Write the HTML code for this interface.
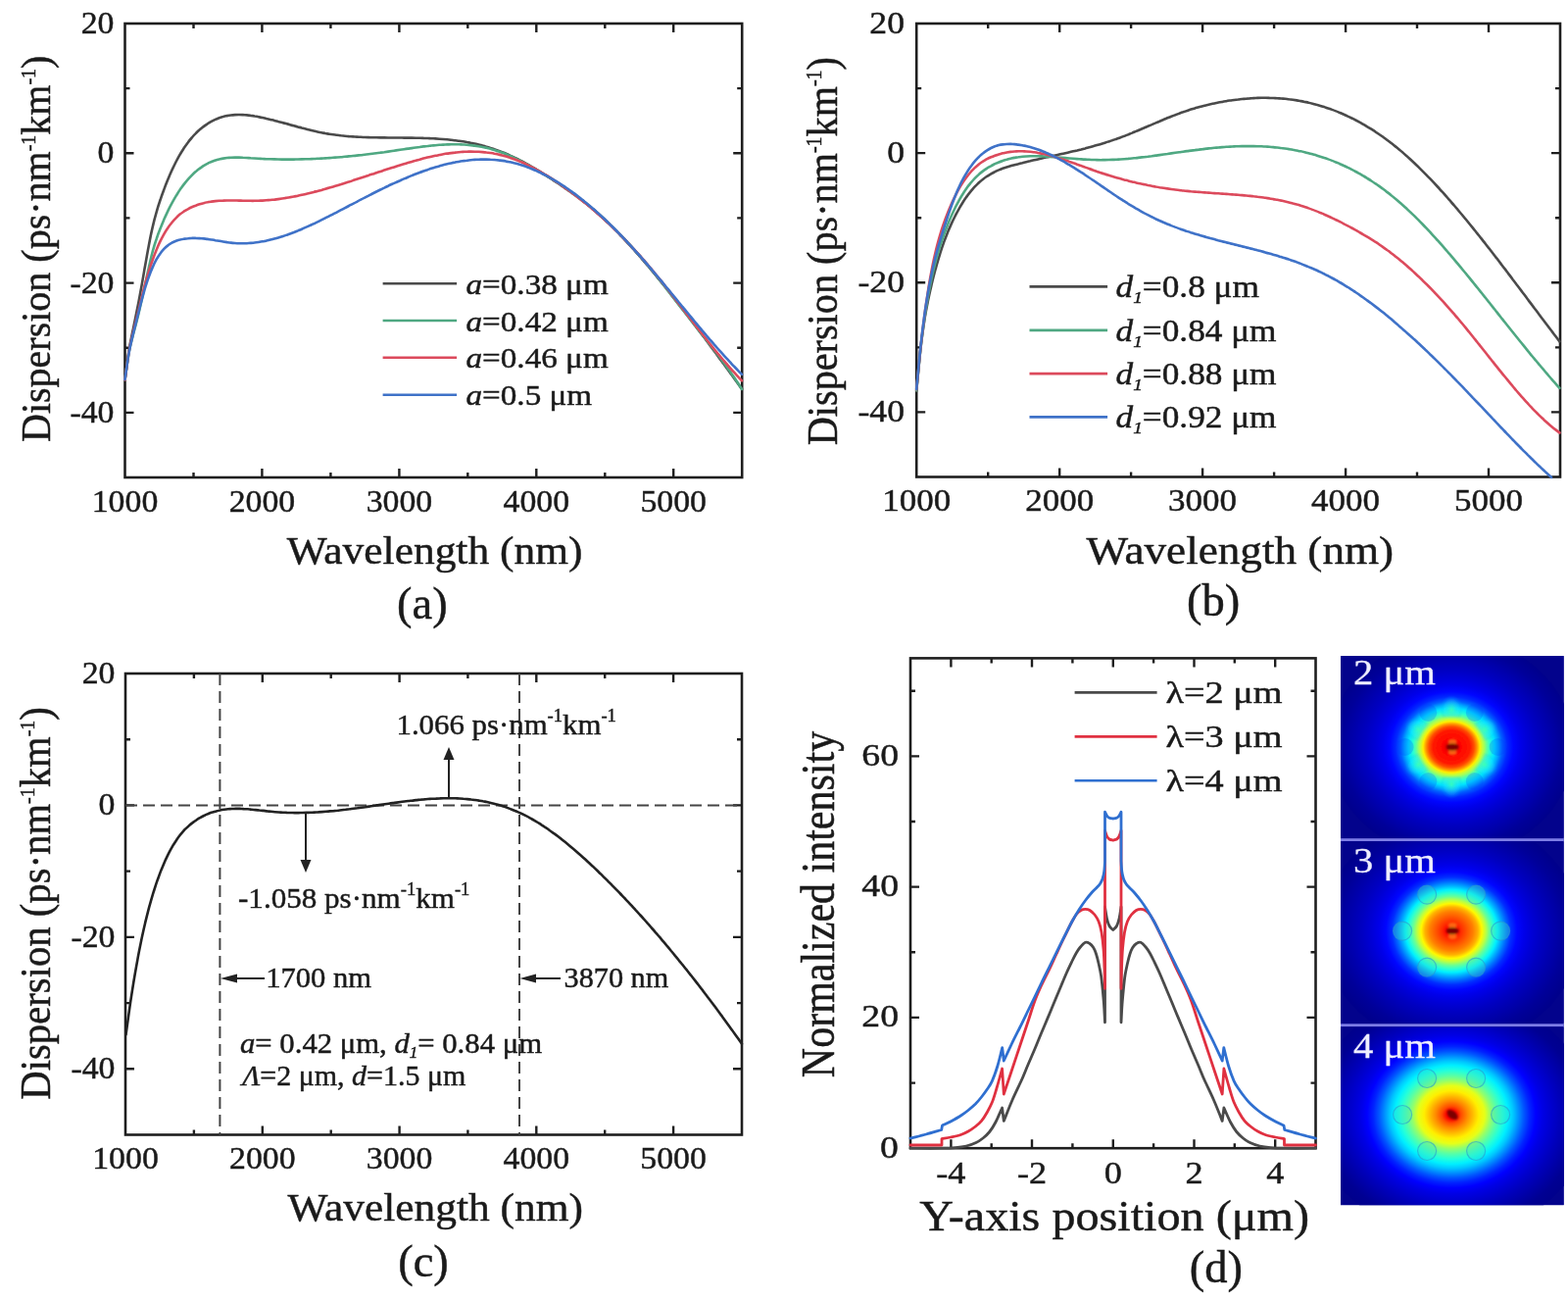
<!DOCTYPE html>
<html><head><meta charset="utf-8"><style>
html,body{margin:0;padding:0;background:#fff;}
svg{display:block;}
text{font-family:'Liberation Serif', 'Times New Roman', serif;fill:#1a1a1a;stroke:#1a1a1a;stroke-width:0.45px;}
</style></head><body>
<svg width="1600" height="1325" viewBox="0 0 1600 1325" xmlns="http://www.w3.org/2000/svg">
<rect width="1600" height="1325" fill="#fff"/>
<rect x="127.5" y="24" width="629.7" height="463.0" fill="none" stroke="#1e1e1e" stroke-width="2.6"/>
<path d="M267.4,487.0v-9 M267.4,24.0v9 M407.4,487.0v-9 M407.4,24.0v9 M547.3,487.0v-9 M547.3,24.0v9 M687.2,487.0v-9 M687.2,24.0v9 M197.5,487.0v-5 M197.5,24.0v5 M337.4,487.0v-5 M337.4,24.0v5 M477.3,487.0v-5 M477.3,24.0v5 M617.3,487.0v-5 M617.3,24.0v5 " stroke="#1e1e1e" stroke-width="2.4" fill="none"/>
<path d="M127.5,156.3h9 M757.2,156.3h-9 M127.5,288.6h9 M757.2,288.6h-9 M127.5,420.9h9 M757.2,420.9h-9 M127.5,90.1h5 M757.2,90.1h-5 M127.5,222.4h5 M757.2,222.4h-5 M127.5,354.7h5 M757.2,354.7h-5 " stroke="#1e1e1e" stroke-width="2.4" fill="none"/>
<text transform="translate(116.5,34.0) scale(1.090,1)" font-size="31" text-anchor="end" >20</text>
<text transform="translate(116.5,166.3) scale(1.090,1)" font-size="31" text-anchor="end" >0</text>
<text transform="translate(116.5,298.6) scale(1.090,1)" font-size="31" text-anchor="end" >-20</text>
<text transform="translate(116.5,430.9) scale(1.090,1)" font-size="31" text-anchor="end" >-40</text>
<text transform="translate(127.5,522.0) scale(1.090,1)" font-size="31" text-anchor="middle" >1000</text>
<text transform="translate(267.4,522.0) scale(1.090,1)" font-size="31" text-anchor="middle" >2000</text>
<text transform="translate(407.4,522.0) scale(1.090,1)" font-size="31" text-anchor="middle" >3000</text>
<text transform="translate(547.3,522.0) scale(1.090,1)" font-size="31" text-anchor="middle" >4000</text>
<text transform="translate(687.2,522.0) scale(1.090,1)" font-size="31" text-anchor="middle" >5000</text>
<text transform="translate(443.6,574.6) scale(1.086,1)" font-size="40" text-anchor="middle" >Wavelength (nm)</text>
<text transform="translate(430.9,631.0) scale(1.000,1)" font-size="46.5" text-anchor="middle" >(a)</text>
<text transform="translate(51.0,253.8) rotate(-90) scale(1,1.080)" font-size="40" text-anchor="middle">Dispersion (ps·nm<tspan dy="-14" font-size="20">-1</tspan><tspan dy="14">km</tspan><tspan dy="-14" font-size="20">-1</tspan><tspan dy="14">)</tspan></text>
<path d="M127.5,387.7 C128.2,382.7 130.2,366.4 131.5,358.0 C132.8,349.6 134.2,344.0 135.5,337.3 C136.9,330.6 138.2,324.5 139.5,317.8 C140.9,311.0 142.2,304.1 143.5,296.9 C144.9,289.7 146.2,281.9 147.5,274.3 C148.9,266.8 150.2,258.8 151.6,251.7 C152.9,244.7 154.2,238.0 155.6,232.1 C156.9,226.3 158.2,221.3 159.6,216.6 C160.9,211.9 162.2,207.8 163.6,203.8 C164.9,199.8 166.3,196.1 167.6,192.6 C168.9,189.0 170.3,185.6 171.6,182.4 C172.9,179.2 174.3,176.1 175.6,173.2 C177.0,170.3 178.3,167.6 179.6,165.0 C181.0,162.4 182.3,160.0 183.6,157.7 C185.0,155.4 186.3,153.2 187.6,151.2 C189.0,149.2 190.3,147.3 191.7,145.5 C193.0,143.7 194.3,142.0 195.7,140.5 C197.0,138.9 198.3,137.4 199.7,136.1 C201.0,134.7 202.3,133.5 203.7,132.3 C205.0,131.1 206.4,130.1 207.7,129.1 C209.0,128.1 210.4,127.1 211.7,126.3 C213.0,125.4 214.4,124.6 215.7,123.9 C217.0,123.2 218.4,122.5 219.7,121.9 C221.1,121.3 222.4,120.8 223.7,120.3 C225.1,119.9 226.4,119.4 227.7,119.1 C229.1,118.7 230.4,118.4 231.7,118.1 C233.1,117.9 234.4,117.7 235.8,117.5 C237.1,117.3 238.4,117.2 239.8,117.1 C241.1,117.0 242.4,117.0 243.8,117.0 C245.1,117.0 246.5,117.0 247.8,117.1 C249.1,117.2 250.5,117.3 251.8,117.4 C253.1,117.5 254.5,117.7 255.8,117.9 C257.1,118.0 258.5,118.2 259.8,118.5 C261.2,118.7 262.5,118.9 263.8,119.2 C265.2,119.5 266.5,119.8 267.8,120.0 C269.2,120.3 270.5,120.6 271.8,121.0 C273.2,121.3 274.5,121.6 275.9,121.9 C277.2,122.2 278.5,122.6 279.9,122.9 C281.2,123.3 282.5,123.6 283.9,124.0 C285.2,124.3 286.5,124.7 287.9,125.0 C289.2,125.4 290.6,125.8 291.9,126.1 C293.2,126.5 294.6,126.9 295.9,127.2 C297.2,127.6 298.6,128.0 299.9,128.3 C301.2,128.7 302.6,129.1 303.9,129.4 C305.3,129.8 306.6,130.1 307.9,130.5 C309.3,130.8 310.6,131.2 311.9,131.5 C313.3,131.9 314.6,132.2 315.9,132.5 C317.3,132.9 318.6,133.2 320.0,133.5 C321.3,133.8 322.6,134.1 324.0,134.4 C325.3,134.7 326.6,135.0 328.0,135.2 C329.3,135.5 330.7,135.7 332.0,136.0 C333.3,136.2 334.7,136.5 336.0,136.7 C337.3,136.9 338.7,137.1 340.0,137.3 C341.3,137.5 342.7,137.6 344.0,137.8 C345.4,138.0 346.7,138.1 348.0,138.3 C349.4,138.4 350.7,138.6 352.0,138.7 C353.4,138.8 354.7,138.9 356.0,139.1 C357.4,139.2 358.7,139.3 360.1,139.4 C361.4,139.5 362.7,139.5 364.1,139.6 C365.4,139.7 366.7,139.8 368.1,139.8 C369.4,139.9 370.7,140.0 372.1,140.0 C373.4,140.1 374.8,140.1 376.1,140.1 C377.4,140.2 378.8,140.2 380.1,140.3 C381.4,140.3 382.8,140.3 384.1,140.3 C385.4,140.4 386.8,140.4 388.1,140.4 C389.5,140.4 390.8,140.4 392.1,140.4 C393.5,140.5 394.8,140.5 396.1,140.5 C397.5,140.5 398.8,140.5 400.1,140.5 C401.5,140.5 402.8,140.5 404.2,140.5 C405.5,140.5 406.8,140.5 408.2,140.5 C409.5,140.5 410.8,140.6 412.2,140.6 C413.5,140.6 414.9,140.6 416.2,140.6 C417.5,140.6 418.9,140.6 420.2,140.6 C421.5,140.7 422.9,140.7 424.2,140.7 C425.5,140.7 426.9,140.7 428.2,140.8 C429.6,140.8 430.9,140.8 432.2,140.9 C433.6,140.9 434.9,141.0 436.2,141.0 C437.6,141.1 438.9,141.1 440.2,141.2 C441.6,141.3 442.9,141.3 444.3,141.4 C445.6,141.5 446.9,141.6 448.3,141.7 C449.6,141.8 450.9,141.9 452.3,142.0 C453.6,142.1 454.9,142.2 456.3,142.3 C457.6,142.4 459.0,142.6 460.3,142.7 C461.6,142.9 463.0,143.0 464.3,143.2 C465.6,143.4 467.0,143.5 468.3,143.7 C469.6,143.9 471.0,144.1 472.3,144.3 C473.7,144.6 475.0,144.8 476.3,145.0 C477.7,145.3 479.0,145.5 480.3,145.8 C481.7,146.0 483.0,146.3 484.4,146.6 C485.7,146.9 487.0,147.2 488.4,147.5 C489.7,147.9 491.0,148.2 492.4,148.6 C493.7,148.9 495.0,149.3 496.4,149.7 C497.7,150.1 499.1,150.5 500.4,150.9 C501.7,151.3 503.1,151.7 504.4,152.2 C505.7,152.6 507.1,153.1 508.4,153.6 C509.7,154.1 511.1,154.6 512.4,155.1 C513.8,155.7 515.1,156.2 516.4,156.8 C517.8,157.4 519.1,158.0 520.4,158.6 C521.8,159.2 523.1,159.8 524.4,160.4 C525.8,161.1 527.1,161.7 528.5,162.4 C529.8,163.1 531.1,163.8 532.5,164.5 C533.8,165.2 535.1,165.9 536.5,166.7 C537.8,167.4 539.1,168.1 540.5,168.9 C541.8,169.7 543.2,170.4 544.5,171.2 C545.8,172.0 547.2,172.8 548.5,173.6 C549.8,174.4 551.2,175.3 552.5,176.1 C553.8,176.9 555.2,177.8 556.5,178.6 C557.9,179.5 559.2,180.3 560.5,181.2 C561.9,182.0 563.2,182.9 564.5,183.8 C565.9,184.7 567.2,185.6 568.6,186.5 C569.9,187.3 571.2,188.2 572.6,189.1 C573.9,190.0 575.2,190.9 576.6,191.9 C577.9,192.8 579.2,193.7 580.6,194.6 C581.9,195.5 583.3,196.5 584.6,197.4 C585.9,198.3 587.3,199.3 588.6,200.3 C589.9,201.2 591.3,202.2 592.6,203.2 C593.9,204.2 595.3,205.2 596.6,206.3 C598.0,207.3 599.3,208.4 600.6,209.5 C602.0,210.5 603.3,211.7 604.6,212.8 C606.0,213.9 607.3,215.1 608.6,216.3 C610.0,217.4 611.3,218.6 612.7,219.8 C614.0,221.1 615.3,222.3 616.7,223.6 C618.0,224.8 619.3,226.1 620.7,227.4 C622.0,228.7 623.3,230.0 624.7,231.3 C626.0,232.6 627.4,234.0 628.7,235.4 C630.0,236.7 631.4,238.1 632.7,239.5 C634.0,240.9 635.4,242.3 636.7,243.7 C638.0,245.2 639.4,246.6 640.7,248.1 C642.1,249.5 643.4,251.0 644.7,252.5 C646.1,253.9 647.4,255.4 648.7,256.9 C650.1,258.4 651.4,260.0 652.8,261.5 C654.1,263.0 655.4,264.6 656.8,266.1 C658.1,267.7 659.4,269.2 660.8,270.8 C662.1,272.4 663.4,274.0 664.8,275.6 C666.1,277.1 667.5,278.8 668.8,280.4 C670.1,282.0 671.5,283.6 672.8,285.2 C674.1,286.9 675.5,288.5 676.8,290.2 C678.1,291.8 679.5,293.5 680.8,295.2 C682.2,296.8 683.5,298.5 684.8,300.2 C686.2,301.9 687.5,303.6 688.8,305.3 C690.2,307.0 691.5,308.7 692.8,310.4 C694.2,312.1 695.5,313.9 696.9,315.6 C698.2,317.3 699.5,319.1 700.9,320.8 C702.2,322.6 703.5,324.3 704.9,326.1 C706.2,327.8 707.5,329.6 708.9,331.4 C710.2,333.1 711.6,334.9 712.9,336.7 C714.2,338.5 715.6,340.3 716.9,342.1 C718.2,343.8 719.6,345.6 720.9,347.4 C722.3,349.2 723.6,351.0 724.9,352.9 C726.3,354.7 727.6,356.5 728.9,358.3 C730.3,360.1 731.6,361.9 732.9,363.7 C734.3,365.6 735.6,367.4 737.0,369.2 C738.3,371.0 739.6,372.9 741.0,374.7 C742.3,376.5 743.6,378.4 745.0,380.2 C746.3,382.0 747.6,383.9 749.0,385.7 C750.3,387.6 751.7,389.4 753.0,391.2 C754.3,393.1 756.3,395.8 757.0,396.8" stroke="#4a4a4a" stroke-width="2.6" fill="none" stroke-linejoin="round" stroke-linecap="round"/>
<path d="M127.5,387.3 C128.2,382.7 130.2,367.4 131.5,360.0 C132.8,352.6 134.2,348.2 135.5,342.8 C136.9,337.4 138.2,333.0 139.5,327.7 C140.9,322.4 142.2,316.8 143.5,311.0 C144.9,305.2 146.2,299.0 147.5,292.8 C148.9,286.7 150.2,280.0 151.6,274.1 C152.9,268.1 154.2,262.1 155.6,257.1 C156.9,252.1 158.2,248.0 159.6,244.0 C160.9,240.0 162.2,236.5 163.6,233.1 C164.9,229.6 166.3,226.4 167.6,223.3 C168.9,220.3 170.3,217.4 171.6,214.6 C172.9,211.9 174.3,209.3 175.6,206.9 C177.0,204.4 178.3,202.1 179.6,199.9 C181.0,197.7 182.3,195.6 183.6,193.6 C185.0,191.7 186.3,189.8 187.6,188.1 C189.0,186.3 190.3,184.7 191.7,183.1 C193.0,181.6 194.3,180.2 195.7,178.8 C197.0,177.5 198.3,176.2 199.7,175.1 C201.0,173.9 202.3,172.8 203.7,171.9 C205.0,170.9 206.4,170.0 207.7,169.1 C209.0,168.3 210.4,167.5 211.7,166.9 C213.0,166.2 214.4,165.6 215.7,165.0 C217.0,164.5 218.4,164.0 219.7,163.5 C221.1,163.1 222.4,162.7 223.7,162.4 C225.1,162.1 226.4,161.8 227.7,161.6 C229.1,161.4 230.4,161.2 231.7,161.0 C233.1,160.9 234.4,160.8 235.8,160.7 C237.1,160.6 238.4,160.6 239.8,160.6 C241.1,160.6 242.4,160.6 243.8,160.6 C245.1,160.6 246.5,160.7 247.8,160.8 C249.1,160.8 250.5,160.9 251.8,161.0 C253.1,161.1 254.5,161.2 255.8,161.3 C257.1,161.3 258.5,161.4 259.8,161.5 C261.2,161.6 262.5,161.7 263.8,161.8 C265.2,161.9 266.5,161.9 267.8,162.0 C269.2,162.1 270.5,162.1 271.8,162.2 C273.2,162.2 274.5,162.3 275.9,162.3 C277.2,162.4 278.5,162.4 279.9,162.4 C281.2,162.5 282.5,162.5 283.9,162.5 C285.2,162.6 286.5,162.6 287.9,162.6 C289.2,162.6 290.6,162.6 291.9,162.6 C293.2,162.6 294.6,162.6 295.9,162.6 C297.2,162.6 298.6,162.6 299.9,162.6 C301.2,162.6 302.6,162.5 303.9,162.5 C305.3,162.5 306.6,162.5 307.9,162.4 C309.3,162.4 310.6,162.4 311.9,162.3 C313.3,162.3 314.6,162.2 315.9,162.2 C317.3,162.1 318.6,162.1 320.0,162.0 C321.3,162.0 322.6,161.9 324.0,161.8 C325.3,161.8 326.6,161.7 328.0,161.6 C329.3,161.5 330.7,161.5 332.0,161.4 C333.3,161.3 334.7,161.2 336.0,161.1 C337.3,161.0 338.7,160.9 340.0,160.8 C341.3,160.7 342.7,160.6 344.0,160.5 C345.4,160.4 346.7,160.3 348.0,160.2 C349.4,160.1 350.7,159.9 352.0,159.8 C353.4,159.7 354.7,159.6 356.0,159.4 C357.4,159.3 358.7,159.2 360.1,159.0 C361.4,158.9 362.7,158.8 364.1,158.6 C365.4,158.5 366.7,158.3 368.1,158.2 C369.4,158.0 370.7,157.9 372.1,157.7 C373.4,157.6 374.8,157.4 376.1,157.2 C377.4,157.1 378.8,156.9 380.1,156.7 C381.4,156.6 382.8,156.4 384.1,156.2 C385.4,156.1 386.8,155.9 388.1,155.7 C389.5,155.5 390.8,155.3 392.1,155.2 C393.5,155.0 394.8,154.8 396.1,154.6 C397.5,154.4 398.8,154.2 400.1,154.0 C401.5,153.8 402.8,153.6 404.2,153.4 C405.5,153.2 406.8,153.0 408.2,152.8 C409.5,152.6 410.8,152.4 412.2,152.2 C413.5,152.0 414.9,151.8 416.2,151.6 C417.5,151.4 418.9,151.3 420.2,151.1 C421.5,150.9 422.9,150.7 424.2,150.5 C425.5,150.3 426.9,150.1 428.2,150.0 C429.6,149.8 430.9,149.6 432.2,149.4 C433.6,149.3 434.9,149.1 436.2,149.0 C437.6,148.8 438.9,148.7 440.2,148.5 C441.6,148.4 442.9,148.3 444.3,148.2 C445.6,148.1 446.9,147.9 448.3,147.8 C449.6,147.8 450.9,147.7 452.3,147.6 C453.6,147.5 454.9,147.5 456.3,147.4 C457.6,147.4 459.0,147.3 460.3,147.3 C461.6,147.3 463.0,147.3 464.3,147.3 C465.6,147.3 467.0,147.3 468.3,147.3 C469.6,147.4 471.0,147.4 472.3,147.5 C473.7,147.6 475.0,147.6 476.3,147.8 C477.7,147.9 479.0,148.0 480.3,148.1 C481.7,148.3 483.0,148.4 484.4,148.6 C485.7,148.8 487.0,149.0 488.4,149.2 C489.7,149.4 491.0,149.7 492.4,150.0 C493.7,150.2 495.0,150.5 496.4,150.8 C497.7,151.1 499.1,151.5 500.4,151.8 C501.7,152.2 503.1,152.6 504.4,153.0 C505.7,153.4 507.1,153.9 508.4,154.3 C509.7,154.8 511.1,155.3 512.4,155.8 C513.8,156.3 515.1,156.8 516.4,157.3 C517.8,157.9 519.1,158.5 520.4,159.0 C521.8,159.6 523.1,160.2 524.4,160.9 C525.8,161.5 527.1,162.1 528.5,162.8 C529.8,163.4 531.1,164.1 532.5,164.8 C533.8,165.5 535.1,166.2 536.5,166.9 C537.8,167.6 539.1,168.4 540.5,169.1 C541.8,169.8 543.2,170.6 544.5,171.4 C545.8,172.1 547.2,172.9 548.5,173.7 C549.8,174.5 551.2,175.3 552.5,176.1 C553.8,176.9 555.2,177.7 556.5,178.5 C557.9,179.3 559.2,180.2 560.5,181.0 C561.9,181.9 563.2,182.7 564.5,183.6 C565.9,184.4 567.2,185.3 568.6,186.2 C569.9,187.1 571.2,188.0 572.6,188.9 C573.9,189.8 575.2,190.7 576.6,191.6 C577.9,192.6 579.2,193.5 580.6,194.5 C581.9,195.4 583.3,196.4 584.6,197.4 C585.9,198.3 587.3,199.3 588.6,200.3 C589.9,201.4 591.3,202.4 592.6,203.4 C593.9,204.4 595.3,205.5 596.6,206.5 C598.0,207.6 599.3,208.7 600.6,209.8 C602.0,210.9 603.3,212.0 604.6,213.1 C606.0,214.2 607.3,215.4 608.6,216.5 C610.0,217.7 611.3,218.8 612.7,220.0 C614.0,221.2 615.3,222.4 616.7,223.6 C618.0,224.8 619.3,226.1 620.7,227.3 C622.0,228.6 623.3,229.8 624.7,231.1 C626.0,232.4 627.4,233.7 628.7,235.1 C630.0,236.4 631.4,237.7 632.7,239.1 C634.0,240.4 635.4,241.8 636.7,243.2 C638.0,244.6 639.4,246.0 640.7,247.5 C642.1,248.9 643.4,250.4 644.7,251.8 C646.1,253.3 647.4,254.8 648.7,256.3 C650.1,257.8 651.4,259.4 652.8,260.9 C654.1,262.5 655.4,264.1 656.8,265.7 C658.1,267.2 659.4,268.8 660.8,270.5 C662.1,272.1 663.4,273.7 664.8,275.4 C666.1,277.0 667.5,278.7 668.8,280.3 C670.1,282.0 671.5,283.7 672.8,285.4 C674.1,287.1 675.5,288.8 676.8,290.5 C678.1,292.2 679.5,293.9 680.8,295.6 C682.2,297.3 683.5,299.0 684.8,300.8 C686.2,302.5 687.5,304.2 688.8,305.9 C690.2,307.7 691.5,309.4 692.8,311.1 C694.2,312.9 695.5,314.6 696.9,316.3 C698.2,318.1 699.5,319.8 700.9,321.5 C702.2,323.2 703.5,324.9 704.9,326.7 C706.2,328.4 707.5,330.1 708.9,331.8 C710.2,333.5 711.6,335.2 712.9,336.9 C714.2,338.6 715.6,340.3 716.9,342.0 C718.2,343.6 719.6,345.3 720.9,347.0 C722.3,348.7 723.6,350.4 724.9,352.2 C726.3,353.9 727.6,355.6 728.9,357.3 C730.3,359.1 731.6,360.8 732.9,362.6 C734.3,364.3 735.6,366.1 737.0,367.9 C738.3,369.7 739.6,371.6 741.0,373.4 C742.3,375.3 743.6,377.1 745.0,379.0 C746.3,380.9 747.6,382.9 749.0,384.8 C750.3,386.8 751.7,388.8 753.0,390.8 C754.3,392.8 756.3,396.0 757.0,397.0" stroke="#4fa882" stroke-width="2.6" fill="none" stroke-linejoin="round" stroke-linecap="round"/>
<path d="M127.5,387.5 C128.2,382.8 130.2,367.2 131.5,359.4 C132.8,351.6 134.2,346.7 135.5,340.8 C136.9,335.0 138.2,329.9 139.5,324.4 C140.9,318.8 142.2,313.1 143.5,307.7 C144.9,302.2 146.2,296.8 147.5,291.8 C148.9,286.8 150.2,282.1 151.6,277.7 C152.9,273.3 154.2,269.3 155.6,265.5 C156.9,261.7 158.2,258.2 159.6,254.9 C160.9,251.7 162.2,248.7 163.6,245.9 C164.9,243.2 166.3,240.7 167.6,238.3 C168.9,236.0 170.3,233.9 171.6,232.0 C172.9,230.0 174.3,228.3 175.6,226.7 C177.0,225.0 178.3,223.6 179.6,222.3 C181.0,220.9 182.3,219.7 183.6,218.6 C185.0,217.5 186.3,216.6 187.6,215.7 C189.0,214.8 190.3,214.0 191.7,213.3 C193.0,212.6 194.3,211.9 195.7,211.3 C197.0,210.7 198.3,210.2 199.7,209.7 C201.0,209.2 202.3,208.7 203.7,208.3 C205.0,207.9 206.4,207.5 207.7,207.2 C209.0,206.8 210.4,206.5 211.7,206.3 C213.0,206.0 214.4,205.8 215.7,205.6 C217.0,205.4 218.4,205.2 219.7,205.1 C221.1,205.0 222.4,204.9 223.7,204.8 C225.1,204.7 226.4,204.6 227.7,204.6 C229.1,204.5 230.4,204.5 231.7,204.5 C233.1,204.4 234.4,204.5 235.8,204.5 C237.1,204.5 238.4,204.5 239.8,204.5 C241.1,204.5 242.4,204.6 243.8,204.6 C245.1,204.6 246.5,204.7 247.8,204.7 C249.1,204.7 250.5,204.8 251.8,204.8 C253.1,204.8 254.5,204.8 255.8,204.8 C257.1,204.9 258.5,204.9 259.8,204.8 C261.2,204.8 262.5,204.8 263.8,204.7 C265.2,204.7 266.5,204.6 267.8,204.6 C269.2,204.5 270.5,204.4 271.8,204.3 C273.2,204.2 274.5,204.1 275.9,204.0 C277.2,203.9 278.5,203.7 279.9,203.6 C281.2,203.4 282.5,203.3 283.9,203.1 C285.2,202.9 286.5,202.7 287.9,202.5 C289.2,202.3 290.6,202.1 291.9,201.9 C293.2,201.7 294.6,201.5 295.9,201.2 C297.2,201.0 298.6,200.8 299.9,200.5 C301.2,200.2 302.6,200.0 303.9,199.7 C305.3,199.4 306.6,199.1 307.9,198.8 C309.3,198.5 310.6,198.2 311.9,197.9 C313.3,197.6 314.6,197.3 315.9,197.0 C317.3,196.7 318.6,196.3 320.0,196.0 C321.3,195.6 322.6,195.3 324.0,194.9 C325.3,194.6 326.6,194.2 328.0,193.9 C329.3,193.5 330.7,193.1 332.0,192.7 C333.3,192.4 334.7,192.0 336.0,191.6 C337.3,191.2 338.7,190.8 340.0,190.4 C341.3,190.0 342.7,189.6 344.0,189.2 C345.4,188.8 346.7,188.4 348.0,188.0 C349.4,187.5 350.7,187.1 352.0,186.7 C353.4,186.3 354.7,185.9 356.0,185.4 C357.4,185.0 358.7,184.6 360.1,184.1 C361.4,183.7 362.7,183.3 364.1,182.8 C365.4,182.4 366.7,182.0 368.1,181.5 C369.4,181.1 370.7,180.6 372.1,180.2 C373.4,179.8 374.8,179.3 376.1,178.9 C377.4,178.4 378.8,178.0 380.1,177.6 C381.4,177.1 382.8,176.7 384.1,176.2 C385.4,175.8 386.8,175.3 388.1,174.9 C389.5,174.5 390.8,174.0 392.1,173.6 C393.5,173.2 394.8,172.7 396.1,172.3 C397.5,171.9 398.8,171.4 400.1,171.0 C401.5,170.6 402.8,170.2 404.2,169.7 C405.5,169.3 406.8,168.9 408.2,168.5 C409.5,168.1 410.8,167.7 412.2,167.3 C413.5,166.9 414.9,166.5 416.2,166.1 C417.5,165.7 418.9,165.3 420.2,164.9 C421.5,164.5 422.9,164.1 424.2,163.8 C425.5,163.4 426.9,163.0 428.2,162.7 C429.6,162.3 430.9,162.0 432.2,161.6 C433.6,161.3 434.9,161.0 436.2,160.6 C437.6,160.3 438.9,160.0 440.2,159.7 C441.6,159.4 442.9,159.1 444.3,158.8 C445.6,158.6 446.9,158.3 448.3,158.0 C449.6,157.8 450.9,157.5 452.3,157.3 C453.6,157.1 454.9,156.9 456.3,156.6 C457.6,156.4 459.0,156.3 460.3,156.1 C461.6,155.9 463.0,155.7 464.3,155.6 C465.6,155.4 467.0,155.3 468.3,155.2 C469.6,155.1 471.0,155.0 472.3,154.9 C473.7,154.8 475.0,154.8 476.3,154.7 C477.7,154.7 479.0,154.6 480.3,154.6 C481.7,154.6 483.0,154.6 484.4,154.7 C485.7,154.7 487.0,154.7 488.4,154.8 C489.7,154.9 491.0,155.0 492.4,155.1 C493.7,155.2 495.0,155.3 496.4,155.5 C497.7,155.6 499.1,155.8 500.4,156.0 C501.7,156.2 503.1,156.4 504.4,156.7 C505.7,156.9 507.1,157.2 508.4,157.5 C509.7,157.8 511.1,158.1 512.4,158.5 C513.8,158.8 515.1,159.2 516.4,159.6 C517.8,160.0 519.1,160.4 520.4,160.9 C521.8,161.3 523.1,161.8 524.4,162.3 C525.8,162.8 527.1,163.3 528.5,163.8 C529.8,164.4 531.1,164.9 532.5,165.5 C533.8,166.1 535.1,166.7 536.5,167.3 C537.8,168.0 539.1,168.6 540.5,169.3 C541.8,170.0 543.2,170.7 544.5,171.4 C545.8,172.1 547.2,172.8 548.5,173.6 C549.8,174.3 551.2,175.1 552.5,175.8 C553.8,176.6 555.2,177.4 556.5,178.2 C557.9,179.1 559.2,179.9 560.5,180.7 C561.9,181.6 563.2,182.4 564.5,183.3 C565.9,184.2 567.2,185.1 568.6,186.0 C569.9,186.9 571.2,187.8 572.6,188.7 C573.9,189.7 575.2,190.6 576.6,191.6 C577.9,192.5 579.2,193.5 580.6,194.5 C581.9,195.4 583.3,196.4 584.6,197.4 C585.9,198.4 587.3,199.4 588.6,200.5 C589.9,201.5 591.3,202.5 592.6,203.6 C593.9,204.7 595.3,205.7 596.6,206.8 C598.0,207.9 599.3,209.0 600.6,210.1 C602.0,211.2 603.3,212.3 604.6,213.4 C606.0,214.6 607.3,215.7 608.6,216.9 C610.0,218.0 611.3,219.2 612.7,220.4 C614.0,221.6 615.3,222.8 616.7,224.0 C618.0,225.2 619.3,226.5 620.7,227.7 C622.0,229.0 623.3,230.2 624.7,231.5 C626.0,232.8 627.4,234.1 628.7,235.4 C630.0,236.7 631.4,238.0 632.7,239.4 C634.0,240.7 635.4,242.1 636.7,243.4 C638.0,244.8 639.4,246.2 640.7,247.6 C642.1,249.0 643.4,250.4 644.7,251.8 C646.1,253.3 647.4,254.7 648.7,256.2 C650.1,257.7 651.4,259.1 652.8,260.6 C654.1,262.1 655.4,263.7 656.8,265.2 C658.1,266.7 659.4,268.3 660.8,269.9 C662.1,271.4 663.4,273.0 664.8,274.6 C666.1,276.2 667.5,277.8 668.8,279.5 C670.1,281.1 671.5,282.8 672.8,284.4 C674.1,286.1 675.5,287.7 676.8,289.4 C678.1,291.1 679.5,292.8 680.8,294.5 C682.2,296.2 683.5,297.9 684.8,299.6 C686.2,301.3 687.5,303.1 688.8,304.8 C690.2,306.5 691.5,308.2 692.8,310.0 C694.2,311.7 695.5,313.4 696.9,315.2 C698.2,316.9 699.5,318.7 700.9,320.4 C702.2,322.1 703.5,323.9 704.9,325.6 C706.2,327.4 707.5,329.1 708.9,330.8 C710.2,332.6 711.6,334.3 712.9,336.0 C714.2,337.7 715.6,339.4 716.9,341.1 C718.2,342.9 719.6,344.6 720.9,346.2 C722.3,347.9 723.6,349.6 724.9,351.3 C726.3,353.0 727.6,354.6 728.9,356.3 C730.3,357.9 731.6,359.5 732.9,361.2 C734.3,362.8 735.6,364.4 737.0,366.0 C738.3,367.5 739.6,369.1 741.0,370.7 C742.3,372.2 743.6,373.8 745.0,375.3 C746.3,376.8 747.6,378.3 749.0,379.7 C750.3,381.2 751.7,382.7 753.0,384.1 C754.3,385.5 756.3,387.6 757.0,388.3" stroke="#dc4a5c" stroke-width="2.6" fill="none" stroke-linejoin="round" stroke-linecap="round"/>
<path d="M127.5,387.0 C128.2,382.6 130.2,367.9 131.5,360.4 C132.8,352.9 134.2,347.8 135.5,342.1 C136.9,336.4 138.2,331.4 139.5,326.1 C140.9,320.8 142.2,315.4 143.5,310.3 C144.9,305.2 146.2,300.2 147.5,295.6 C148.9,291.1 150.2,286.9 151.6,283.1 C152.9,279.3 154.2,276.0 155.6,272.9 C156.9,269.8 158.2,267.2 159.6,264.7 C160.9,262.3 162.2,260.3 163.6,258.4 C164.9,256.5 166.3,255.0 167.6,253.6 C168.9,252.2 170.3,251.1 171.6,250.1 C172.9,249.0 174.3,248.3 175.6,247.5 C177.0,246.8 178.3,246.3 179.6,245.8 C181.0,245.3 182.3,244.9 183.6,244.6 C185.0,244.2 186.3,243.9 187.6,243.7 C189.0,243.5 190.3,243.3 191.7,243.2 C193.0,243.0 194.3,242.9 195.7,242.9 C197.0,242.8 198.3,242.8 199.7,242.9 C201.0,242.9 202.3,243.0 203.7,243.1 C205.0,243.2 206.4,243.3 207.7,243.4 C209.0,243.6 210.4,243.7 211.7,243.9 C213.0,244.1 214.4,244.3 215.7,244.5 C217.0,244.7 218.4,244.9 219.7,245.2 C221.1,245.4 222.4,245.6 223.7,245.8 C225.1,246.1 226.4,246.3 227.7,246.5 C229.1,246.7 230.4,246.9 231.7,247.1 C233.1,247.3 234.4,247.5 235.8,247.6 C237.1,247.8 238.4,247.9 239.8,248.0 C241.1,248.1 242.4,248.2 243.8,248.2 C245.1,248.3 246.5,248.3 247.8,248.3 C249.1,248.3 250.5,248.2 251.8,248.2 C253.1,248.1 254.5,248.0 255.8,247.9 C257.1,247.8 258.5,247.7 259.8,247.5 C261.2,247.4 262.5,247.2 263.8,247.0 C265.2,246.8 266.5,246.6 267.8,246.3 C269.2,246.1 270.5,245.8 271.8,245.6 C273.2,245.3 274.5,245.0 275.9,244.6 C277.2,244.3 278.5,244.0 279.9,243.6 C281.2,243.3 282.5,242.9 283.9,242.5 C285.2,242.1 286.5,241.7 287.9,241.2 C289.2,240.8 290.6,240.4 291.9,239.9 C293.2,239.4 294.6,239.0 295.9,238.5 C297.2,238.0 298.6,237.5 299.9,237.0 C301.2,236.4 302.6,235.9 303.9,235.4 C305.3,234.8 306.6,234.3 307.9,233.7 C309.3,233.1 310.6,232.5 311.9,231.9 C313.3,231.4 314.6,230.7 315.9,230.1 C317.3,229.5 318.6,228.9 320.0,228.3 C321.3,227.7 322.6,227.0 324.0,226.4 C325.3,225.7 326.6,225.1 328.0,224.4 C329.3,223.8 330.7,223.1 332.0,222.4 C333.3,221.7 334.7,221.1 336.0,220.4 C337.3,219.7 338.7,219.0 340.0,218.3 C341.3,217.6 342.7,217.0 344.0,216.3 C345.4,215.6 346.7,214.9 348.0,214.2 C349.4,213.5 350.7,212.8 352.0,212.1 C353.4,211.4 354.7,210.7 356.0,210.0 C357.4,209.3 358.7,208.6 360.1,207.9 C361.4,207.2 362.7,206.5 364.1,205.8 C365.4,205.1 366.7,204.4 368.1,203.7 C369.4,203.0 370.7,202.3 372.1,201.6 C373.4,200.9 374.8,200.2 376.1,199.6 C377.4,198.9 378.8,198.2 380.1,197.5 C381.4,196.9 382.8,196.2 384.1,195.5 C385.4,194.9 386.8,194.2 388.1,193.5 C389.5,192.9 390.8,192.2 392.1,191.6 C393.5,190.9 394.8,190.3 396.1,189.7 C397.5,189.0 398.8,188.4 400.1,187.8 C401.5,187.2 402.8,186.6 404.2,186.0 C405.5,185.4 406.8,184.8 408.2,184.2 C409.5,183.6 410.8,183.0 412.2,182.4 C413.5,181.9 414.9,181.3 416.2,180.7 C417.5,180.2 418.9,179.6 420.2,179.1 C421.5,178.6 422.9,178.0 424.2,177.5 C425.5,177.0 426.9,176.5 428.2,176.0 C429.6,175.5 430.9,175.0 432.2,174.5 C433.6,174.1 434.9,173.6 436.2,173.2 C437.6,172.7 438.9,172.3 440.2,171.8 C441.6,171.4 442.9,171.0 444.3,170.6 C445.6,170.2 446.9,169.8 448.3,169.4 C449.6,169.0 450.9,168.7 452.3,168.3 C453.6,168.0 454.9,167.6 456.3,167.3 C457.6,167.0 459.0,166.7 460.3,166.4 C461.6,166.1 463.0,165.8 464.3,165.6 C465.6,165.3 467.0,165.1 468.3,164.9 C469.6,164.6 471.0,164.4 472.3,164.2 C473.7,164.0 475.0,163.8 476.3,163.7 C477.7,163.5 479.0,163.4 480.3,163.2 C481.7,163.1 483.0,163.0 484.4,162.9 C485.7,162.8 487.0,162.8 488.4,162.7 C489.7,162.7 491.0,162.6 492.4,162.6 C493.7,162.6 495.0,162.6 496.4,162.6 C497.7,162.6 499.1,162.7 500.4,162.8 C501.7,162.8 503.1,162.9 504.4,163.0 C505.7,163.1 507.1,163.2 508.4,163.4 C509.7,163.5 511.1,163.7 512.4,163.9 C513.8,164.1 515.1,164.3 516.4,164.6 C517.8,164.8 519.1,165.1 520.4,165.3 C521.8,165.6 523.1,165.9 524.4,166.3 C525.8,166.6 527.1,166.9 528.5,167.3 C529.8,167.7 531.1,168.1 532.5,168.5 C533.8,169.0 535.1,169.4 536.5,169.9 C537.8,170.4 539.1,170.9 540.5,171.4 C541.8,171.9 543.2,172.4 544.5,173.0 C545.8,173.6 547.2,174.2 548.5,174.8 C549.8,175.4 551.2,176.0 552.5,176.7 C553.8,177.3 555.2,178.0 556.5,178.7 C557.9,179.4 559.2,180.1 560.5,180.8 C561.9,181.6 563.2,182.3 564.5,183.1 C565.9,183.9 567.2,184.7 568.6,185.5 C569.9,186.4 571.2,187.2 572.6,188.1 C573.9,188.9 575.2,189.8 576.6,190.7 C577.9,191.6 579.2,192.5 580.6,193.5 C581.9,194.4 583.3,195.4 584.6,196.4 C585.9,197.3 587.3,198.3 588.6,199.3 C589.9,200.4 591.3,201.4 592.6,202.4 C593.9,203.5 595.3,204.6 596.6,205.7 C598.0,206.7 599.3,207.9 600.6,209.0 C602.0,210.1 603.3,211.2 604.6,212.4 C606.0,213.6 607.3,214.7 608.6,215.9 C610.0,217.1 611.3,218.3 612.7,219.6 C614.0,220.8 615.3,222.0 616.7,223.3 C618.0,224.5 619.3,225.8 620.7,227.1 C622.0,228.4 623.3,229.7 624.7,231.0 C626.0,232.3 627.4,233.7 628.7,235.0 C630.0,236.4 631.4,237.7 632.7,239.1 C634.0,240.5 635.4,241.9 636.7,243.3 C638.0,244.7 639.4,246.1 640.7,247.6 C642.1,249.0 643.4,250.4 644.7,251.9 C646.1,253.4 647.4,254.8 648.7,256.3 C650.1,257.8 651.4,259.3 652.8,260.8 C654.1,262.3 655.4,263.9 656.8,265.4 C658.1,266.9 659.4,268.5 660.8,270.0 C662.1,271.6 663.4,273.2 664.8,274.7 C666.1,276.3 667.5,277.9 668.8,279.5 C670.1,281.1 671.5,282.6 672.8,284.2 C674.1,285.8 675.5,287.4 676.8,289.1 C678.1,290.7 679.5,292.3 680.8,293.9 C682.2,295.5 683.5,297.1 684.8,298.8 C686.2,300.4 687.5,302.0 688.8,303.6 C690.2,305.3 691.5,306.9 692.8,308.5 C694.2,310.1 695.5,311.8 696.9,313.4 C698.2,315.0 699.5,316.7 700.9,318.3 C702.2,319.9 703.5,321.5 704.9,323.1 C706.2,324.8 707.5,326.4 708.9,328.0 C710.2,329.6 711.6,331.2 712.9,332.8 C714.2,334.4 715.6,336.0 716.9,337.6 C718.2,339.1 719.6,340.7 720.9,342.3 C722.3,343.9 723.6,345.4 724.9,347.0 C726.3,348.5 727.6,350.1 728.9,351.6 C730.3,353.1 731.6,354.7 732.9,356.2 C734.3,357.7 735.6,359.2 737.0,360.7 C738.3,362.2 739.6,363.6 741.0,365.1 C742.3,366.5 743.6,368.0 745.0,369.4 C746.3,370.8 747.6,372.3 749.0,373.7 C750.3,375.1 751.7,376.4 753.0,377.8 C754.3,379.2 756.3,381.2 757.0,381.9" stroke="#3f72c8" stroke-width="2.6" fill="none" stroke-linejoin="round" stroke-linecap="round"/>
<line x1="390.6" y1="289.2" x2="466.1" y2="289.2" stroke="#4a4a4a" stroke-width="2.6"/>
<text transform="translate(475.5,299.8) scale(1.106,1)" font-size="30" text-anchor="start" ><tspan font-style="italic">a</tspan>=0.38 μm</text>
<line x1="390.6" y1="327" x2="466.1" y2="327" stroke="#4fa882" stroke-width="2.6"/>
<text transform="translate(475.5,337.6) scale(1.106,1)" font-size="30" text-anchor="start" ><tspan font-style="italic">a</tspan>=0.42 μm</text>
<line x1="390.6" y1="364.8" x2="466.1" y2="364.8" stroke="#dc4a5c" stroke-width="2.6"/>
<text transform="translate(475.5,375.4) scale(1.106,1)" font-size="30" text-anchor="start" ><tspan font-style="italic">a</tspan>=0.46 μm</text>
<line x1="390.6" y1="402.7" x2="466.1" y2="402.7" stroke="#3f72c8" stroke-width="2.6"/>
<text transform="translate(475.5,413.3) scale(1.106,1)" font-size="30" text-anchor="start" ><tspan font-style="italic">a</tspan>=0.5 μm</text>
<rect x="935.2" y="24" width="656.8" height="462.5" fill="none" stroke="#1e1e1e" stroke-width="2.6"/>
<path d="M1081.2,486.5v-9 M1081.2,24.0v9 M1227.1,486.5v-9 M1227.1,24.0v9 M1373.1,486.5v-9 M1373.1,24.0v9 M1519.0,486.5v-9 M1519.0,24.0v9 M1008.2,486.5v-5 M1008.2,24.0v5 M1154.1,486.5v-5 M1154.1,24.0v5 M1300.1,486.5v-5 M1300.1,24.0v5 M1446.0,486.5v-5 M1446.0,24.0v5 " stroke="#1e1e1e" stroke-width="2.4" fill="none"/>
<path d="M935.2,156.1h9 M1592.0,156.1h-9 M935.2,288.3h9 M1592.0,288.3h-9 M935.2,420.4h9 M1592.0,420.4h-9 M935.2,90.1h5 M1592.0,90.1h-5 M935.2,222.2h5 M1592.0,222.2h-5 M935.2,354.4h5 M1592.0,354.4h-5 " stroke="#1e1e1e" stroke-width="2.4" fill="none"/>
<text transform="translate(923.0,34.0) scale(1.150,1)" font-size="31" text-anchor="end" >20</text>
<text transform="translate(923.0,166.1) scale(1.150,1)" font-size="31" text-anchor="end" >0</text>
<text transform="translate(923.0,298.3) scale(1.150,1)" font-size="31" text-anchor="end" >-20</text>
<text transform="translate(923.0,430.4) scale(1.150,1)" font-size="31" text-anchor="end" >-40</text>
<text transform="translate(935.2,521.0) scale(1.130,1)" font-size="31" text-anchor="middle" >1000</text>
<text transform="translate(1081.2,521.0) scale(1.130,1)" font-size="31" text-anchor="middle" >2000</text>
<text transform="translate(1227.1,521.0) scale(1.130,1)" font-size="31" text-anchor="middle" >3000</text>
<text transform="translate(1373.1,521.0) scale(1.130,1)" font-size="31" text-anchor="middle" >4000</text>
<text transform="translate(1519.0,521.0) scale(1.130,1)" font-size="31" text-anchor="middle" >5000</text>
<text transform="translate(1265.3,574.6) scale(1.130,1)" font-size="40" text-anchor="middle" >Wavelength (nm)</text>
<text transform="translate(1238.2,627.5) scale(1.000,1)" font-size="46.5" text-anchor="middle" >(b)</text>
<text transform="translate(854.0,256.1) rotate(-90) scale(1,1.120)" font-size="40.2" text-anchor="middle">Dispersion (ps·nm<tspan dy="-14" font-size="20">-1</tspan><tspan dy="14">km</tspan><tspan dy="-14" font-size="20">-1</tspan><tspan dy="14">)</tspan></text>
<path d="M935.2,398.7 C935.9,391.8 937.9,369.1 939.2,357.1 C940.5,345.2 941.9,335.8 943.2,327.2 C944.5,318.6 945.9,312.1 947.2,305.6 C948.5,299.0 949.9,293.4 951.2,287.8 C952.5,282.3 953.9,277.2 955.2,272.3 C956.5,267.5 957.9,263.0 959.2,258.8 C960.5,254.5 961.9,250.6 963.2,246.9 C964.5,243.2 965.9,239.8 967.2,236.5 C968.5,233.3 969.9,230.3 971.2,227.4 C972.5,224.5 973.9,221.8 975.2,219.2 C976.5,216.6 977.9,214.2 979.2,211.9 C980.5,209.6 981.9,207.4 983.2,205.3 C984.5,203.3 985.9,201.4 987.2,199.5 C988.5,197.7 989.9,196.0 991.2,194.4 C992.6,192.8 993.9,191.3 995.2,189.9 C996.6,188.5 997.9,187.3 999.2,186.0 C1000.6,184.8 1001.9,183.7 1003.2,182.7 C1004.6,181.6 1005.9,180.7 1007.2,179.8 C1008.6,178.9 1009.9,178.1 1011.2,177.3 C1012.6,176.5 1013.9,175.8 1015.2,175.2 C1016.6,174.5 1017.9,173.9 1019.2,173.4 C1020.6,172.8 1021.9,172.3 1023.2,171.8 C1024.6,171.3 1025.9,170.9 1027.2,170.5 C1028.6,170.1 1029.9,169.7 1031.2,169.3 C1032.6,168.9 1033.9,168.6 1035.2,168.2 C1036.6,167.9 1037.9,167.5 1039.2,167.2 C1040.6,166.8 1041.9,166.5 1043.2,166.2 C1044.6,165.8 1045.9,165.5 1047.2,165.2 C1048.6,164.9 1049.9,164.6 1051.2,164.3 C1052.6,163.9 1053.9,163.6 1055.2,163.3 C1056.6,163.0 1057.9,162.7 1059.2,162.4 C1060.6,162.1 1061.9,161.8 1063.2,161.5 C1064.6,161.2 1065.9,160.9 1067.2,160.6 C1068.6,160.3 1069.9,160.0 1071.2,159.7 C1072.6,159.4 1073.9,159.1 1075.2,158.8 C1076.6,158.6 1077.9,158.3 1079.2,158.0 C1080.6,157.7 1081.9,157.4 1083.2,157.1 C1084.6,156.8 1085.9,156.5 1087.2,156.2 C1088.6,155.9 1089.9,155.6 1091.2,155.2 C1092.6,154.9 1093.9,154.6 1095.2,154.3 C1096.6,154.0 1097.9,153.7 1099.2,153.4 C1100.6,153.0 1101.9,152.7 1103.3,152.4 C1104.6,152.0 1105.9,151.7 1107.3,151.4 C1108.6,151.0 1109.9,150.7 1111.3,150.3 C1112.6,150.0 1113.9,149.6 1115.3,149.2 C1116.6,148.9 1117.9,148.5 1119.3,148.1 C1120.6,147.7 1121.9,147.3 1123.3,146.9 C1124.6,146.5 1125.9,146.1 1127.3,145.7 C1128.6,145.3 1129.9,144.9 1131.3,144.4 C1132.6,144.0 1133.9,143.6 1135.3,143.1 C1136.6,142.7 1137.9,142.2 1139.3,141.7 C1140.6,141.3 1141.9,140.8 1143.3,140.3 C1144.6,139.8 1145.9,139.3 1147.3,138.8 C1148.6,138.3 1149.9,137.7 1151.3,137.2 C1152.6,136.7 1153.9,136.1 1155.3,135.6 C1156.6,135.0 1157.9,134.5 1159.3,133.9 C1160.6,133.4 1161.9,132.8 1163.3,132.2 C1164.6,131.7 1165.9,131.1 1167.3,130.5 C1168.6,129.9 1169.9,129.4 1171.3,128.8 C1172.6,128.2 1173.9,127.6 1175.3,127.1 C1176.6,126.5 1177.9,125.9 1179.3,125.4 C1180.6,124.8 1181.9,124.2 1183.3,123.7 C1184.6,123.1 1185.9,122.5 1187.3,122.0 C1188.6,121.4 1189.9,120.9 1191.3,120.3 C1192.6,119.8 1193.9,119.3 1195.3,118.7 C1196.6,118.2 1197.9,117.7 1199.3,117.2 C1200.6,116.7 1201.9,116.2 1203.3,115.7 C1204.6,115.2 1205.9,114.7 1207.3,114.3 C1208.6,113.8 1210.0,113.3 1211.3,112.9 C1212.6,112.5 1214.0,112.0 1215.3,111.6 C1216.6,111.2 1218.0,110.8 1219.3,110.4 C1220.6,110.0 1222.0,109.7 1223.3,109.3 C1224.6,108.9 1226.0,108.6 1227.3,108.2 C1228.6,107.9 1230.0,107.5 1231.3,107.2 C1232.6,106.9 1234.0,106.6 1235.3,106.3 C1236.6,106.0 1238.0,105.7 1239.3,105.4 C1240.6,105.1 1242.0,104.9 1243.3,104.6 C1244.6,104.3 1246.0,104.1 1247.3,103.9 C1248.6,103.6 1250.0,103.4 1251.3,103.2 C1252.6,102.9 1254.0,102.7 1255.3,102.5 C1256.6,102.3 1258.0,102.2 1259.3,102.0 C1260.6,101.8 1262.0,101.6 1263.3,101.5 C1264.6,101.3 1266.0,101.2 1267.3,101.0 C1268.6,100.9 1270.0,100.8 1271.3,100.7 C1272.6,100.5 1274.0,100.4 1275.3,100.4 C1276.6,100.3 1278.0,100.2 1279.3,100.1 C1280.6,100.0 1282.0,100.0 1283.3,99.9 C1284.6,99.9 1286.0,99.9 1287.3,99.8 C1288.6,99.8 1290.0,99.8 1291.3,99.8 C1292.6,99.8 1294.0,99.8 1295.3,99.9 C1296.6,99.9 1298.0,99.9 1299.3,100.0 C1300.6,100.1 1302.0,100.1 1303.3,100.2 C1304.6,100.3 1306.0,100.4 1307.3,100.5 C1308.6,100.6 1310.0,100.7 1311.3,100.8 C1312.6,101.0 1314.0,101.1 1315.3,101.3 C1316.6,101.4 1318.0,101.6 1319.3,101.8 C1320.7,102.0 1322.0,102.2 1323.3,102.4 C1324.7,102.6 1326.0,102.9 1327.3,103.1 C1328.7,103.3 1330.0,103.6 1331.3,103.9 C1332.7,104.2 1334.0,104.4 1335.3,104.8 C1336.7,105.1 1338.0,105.4 1339.3,105.7 C1340.7,106.0 1342.0,106.4 1343.3,106.8 C1344.7,107.1 1346.0,107.5 1347.3,107.9 C1348.7,108.3 1350.0,108.7 1351.3,109.1 C1352.7,109.6 1354.0,110.0 1355.3,110.5 C1356.7,110.9 1358.0,111.4 1359.3,111.9 C1360.7,112.4 1362.0,112.9 1363.3,113.4 C1364.7,113.9 1366.0,114.5 1367.3,115.0 C1368.7,115.6 1370.0,116.2 1371.3,116.7 C1372.7,117.3 1374.0,117.9 1375.3,118.6 C1376.7,119.2 1378.0,119.8 1379.3,120.5 C1380.7,121.2 1382.0,121.8 1383.3,122.5 C1384.7,123.2 1386.0,123.9 1387.3,124.7 C1388.7,125.4 1390.0,126.2 1391.3,126.9 C1392.7,127.7 1394.0,128.5 1395.3,129.3 C1396.7,130.1 1398.0,130.9 1399.3,131.7 C1400.7,132.6 1402.0,133.4 1403.3,134.3 C1404.7,135.2 1406.0,136.1 1407.3,137.0 C1408.7,137.9 1410.0,138.9 1411.3,139.8 C1412.7,140.8 1414.0,141.7 1415.3,142.7 C1416.7,143.7 1418.0,144.7 1419.3,145.8 C1420.7,146.8 1422.0,147.9 1423.3,148.9 C1424.7,150.0 1426.0,151.1 1427.4,152.2 C1428.7,153.3 1430.0,154.5 1431.4,155.6 C1432.7,156.8 1434.0,157.9 1435.4,159.1 C1436.7,160.3 1438.0,161.5 1439.4,162.8 C1440.7,164.0 1442.0,165.2 1443.4,166.5 C1444.7,167.8 1446.0,169.0 1447.4,170.3 C1448.7,171.6 1450.0,172.9 1451.4,174.3 C1452.7,175.6 1454.0,176.9 1455.4,178.3 C1456.7,179.7 1458.0,181.0 1459.4,182.4 C1460.7,183.8 1462.0,185.2 1463.4,186.7 C1464.7,188.1 1466.0,189.5 1467.4,191.0 C1468.7,192.4 1470.0,193.9 1471.4,195.4 C1472.7,196.8 1474.0,198.3 1475.4,199.8 C1476.7,201.3 1478.0,202.9 1479.4,204.4 C1480.7,205.9 1482.0,207.5 1483.4,209.0 C1484.7,210.6 1486.0,212.1 1487.4,213.7 C1488.7,215.3 1490.0,216.9 1491.4,218.5 C1492.7,220.1 1494.0,221.7 1495.4,223.3 C1496.7,224.9 1498.0,226.5 1499.4,228.2 C1500.7,229.8 1502.0,231.4 1503.4,233.1 C1504.7,234.7 1506.0,236.4 1507.4,238.1 C1508.7,239.7 1510.0,241.4 1511.4,243.1 C1512.7,244.8 1514.0,246.5 1515.4,248.2 C1516.7,249.9 1518.0,251.6 1519.4,253.3 C1520.7,255.0 1522.0,256.7 1523.4,258.5 C1524.7,260.2 1526.0,261.9 1527.4,263.6 C1528.7,265.4 1530.0,267.1 1531.4,268.9 C1532.7,270.6 1534.0,272.4 1535.4,274.1 C1536.7,275.9 1538.1,277.6 1539.4,279.4 C1540.7,281.1 1542.1,282.9 1543.4,284.7 C1544.7,286.4 1546.1,288.2 1547.4,290.0 C1548.7,291.7 1550.1,293.5 1551.4,295.3 C1552.7,297.1 1554.1,298.8 1555.4,300.6 C1556.7,302.4 1558.1,304.2 1559.4,305.9 C1560.7,307.7 1562.1,309.5 1563.4,311.3 C1564.7,313.1 1566.1,314.8 1567.4,316.6 C1568.7,318.4 1570.1,320.2 1571.4,321.9 C1572.7,323.7 1574.1,325.5 1575.4,327.2 C1576.7,329.0 1578.1,330.8 1579.4,332.5 C1580.7,334.3 1582.1,336.1 1583.4,337.8 C1584.7,339.6 1586.1,341.3 1587.4,343.1 C1588.7,344.9 1590.7,347.5 1591.4,348.3" stroke="#4a4a4a" stroke-width="2.6" fill="none" stroke-linejoin="round" stroke-linecap="round"/>
<path d="M935.2,398.2 C935.9,391.4 937.9,369.6 939.2,357.6 C940.5,345.6 941.9,335.4 943.2,326.1 C944.5,316.7 945.9,308.9 947.2,301.4 C948.5,294.0 949.9,287.5 951.2,281.4 C952.5,275.4 953.9,270.0 955.2,265.0 C956.5,259.9 957.9,255.5 959.2,251.2 C960.5,246.9 961.9,243.1 963.2,239.4 C964.5,235.6 965.9,232.1 967.2,228.8 C968.5,225.4 969.9,222.3 971.2,219.3 C972.5,216.3 973.9,213.5 975.2,210.8 C976.5,208.1 977.9,205.7 979.2,203.3 C980.5,200.9 981.9,198.7 983.2,196.7 C984.5,194.6 985.9,192.7 987.2,190.8 C988.5,189.0 989.9,187.4 991.2,185.8 C992.6,184.2 993.9,182.7 995.2,181.4 C996.6,180.0 997.9,178.8 999.2,177.6 C1000.6,176.4 1001.9,175.4 1003.2,174.4 C1004.6,173.4 1005.9,172.5 1007.2,171.6 C1008.6,170.8 1009.9,170.0 1011.2,169.3 C1012.6,168.5 1013.9,167.9 1015.2,167.2 C1016.6,166.6 1017.9,166.0 1019.2,165.5 C1020.6,165.0 1021.9,164.5 1023.2,164.0 C1024.6,163.5 1025.9,163.1 1027.2,162.8 C1028.6,162.4 1029.9,162.0 1031.2,161.7 C1032.6,161.4 1033.9,161.1 1035.2,160.9 C1036.6,160.7 1037.9,160.4 1039.2,160.3 C1040.6,160.1 1041.9,159.9 1043.2,159.8 C1044.6,159.7 1045.9,159.6 1047.2,159.5 C1048.6,159.4 1049.9,159.3 1051.2,159.3 C1052.6,159.3 1053.9,159.2 1055.2,159.2 C1056.6,159.2 1057.9,159.3 1059.2,159.3 C1060.6,159.3 1061.9,159.4 1063.2,159.4 C1064.6,159.5 1065.9,159.5 1067.2,159.6 C1068.6,159.7 1069.9,159.8 1071.2,159.9 C1072.6,160.0 1073.9,160.1 1075.2,160.2 C1076.6,160.3 1077.9,160.4 1079.2,160.5 C1080.6,160.6 1081.9,160.7 1083.2,160.8 C1084.6,160.9 1085.9,161.0 1087.2,161.1 C1088.6,161.3 1089.9,161.4 1091.2,161.5 C1092.6,161.6 1093.9,161.7 1095.2,161.8 C1096.6,161.9 1097.9,162.0 1099.2,162.1 C1100.6,162.2 1101.9,162.3 1103.3,162.4 C1104.6,162.5 1105.9,162.6 1107.3,162.6 C1108.6,162.7 1109.9,162.8 1111.3,162.8 C1112.6,162.9 1113.9,163.0 1115.3,163.0 C1116.6,163.0 1117.9,163.1 1119.3,163.1 C1120.6,163.1 1121.9,163.1 1123.3,163.2 C1124.6,163.2 1125.9,163.1 1127.3,163.1 C1128.6,163.1 1129.9,163.1 1131.3,163.0 C1132.6,163.0 1133.9,163.0 1135.3,162.9 C1136.6,162.9 1137.9,162.8 1139.3,162.7 C1140.6,162.6 1141.9,162.6 1143.3,162.5 C1144.6,162.4 1145.9,162.3 1147.3,162.2 C1148.6,162.1 1149.9,162.0 1151.3,161.9 C1152.6,161.7 1153.9,161.6 1155.3,161.5 C1156.6,161.4 1157.9,161.2 1159.3,161.1 C1160.6,160.9 1161.9,160.8 1163.3,160.6 C1164.6,160.5 1165.9,160.3 1167.3,160.2 C1168.6,160.0 1169.9,159.8 1171.3,159.7 C1172.6,159.5 1173.9,159.3 1175.3,159.2 C1176.6,159.0 1177.9,158.8 1179.3,158.6 C1180.6,158.4 1181.9,158.3 1183.3,158.1 C1184.6,157.9 1185.9,157.7 1187.3,157.5 C1188.6,157.3 1189.9,157.1 1191.3,157.0 C1192.6,156.8 1193.9,156.6 1195.3,156.4 C1196.6,156.2 1197.9,156.0 1199.3,155.8 C1200.6,155.6 1201.9,155.4 1203.3,155.2 C1204.6,155.0 1205.9,154.9 1207.3,154.7 C1208.6,154.5 1210.0,154.3 1211.3,154.1 C1212.6,153.9 1214.0,153.8 1215.3,153.6 C1216.6,153.4 1218.0,153.2 1219.3,153.1 C1220.6,152.9 1222.0,152.7 1223.3,152.6 C1224.6,152.4 1226.0,152.2 1227.3,152.1 C1228.6,151.9 1230.0,151.8 1231.3,151.6 C1232.6,151.5 1234.0,151.3 1235.3,151.2 C1236.6,151.1 1238.0,150.9 1239.3,150.8 C1240.6,150.7 1242.0,150.6 1243.3,150.5 C1244.6,150.3 1246.0,150.2 1247.3,150.1 C1248.6,150.0 1250.0,149.9 1251.3,149.8 C1252.6,149.8 1254.0,149.7 1255.3,149.6 C1256.6,149.5 1258.0,149.5 1259.3,149.4 C1260.6,149.3 1262.0,149.3 1263.3,149.2 C1264.6,149.2 1266.0,149.2 1267.3,149.1 C1268.6,149.1 1270.0,149.1 1271.3,149.1 C1272.6,149.1 1274.0,149.1 1275.3,149.1 C1276.6,149.1 1278.0,149.1 1279.3,149.1 C1280.6,149.1 1282.0,149.1 1283.3,149.2 C1284.6,149.2 1286.0,149.3 1287.3,149.3 C1288.6,149.4 1290.0,149.5 1291.3,149.5 C1292.6,149.6 1294.0,149.7 1295.3,149.8 C1296.6,149.9 1298.0,150.0 1299.3,150.1 C1300.6,150.3 1302.0,150.4 1303.3,150.5 C1304.6,150.7 1306.0,150.8 1307.3,151.0 C1308.6,151.1 1310.0,151.3 1311.3,151.5 C1312.6,151.7 1314.0,151.9 1315.3,152.1 C1316.6,152.3 1318.0,152.5 1319.3,152.8 C1320.7,153.0 1322.0,153.3 1323.3,153.5 C1324.7,153.8 1326.0,154.1 1327.3,154.3 C1328.7,154.6 1330.0,154.9 1331.3,155.2 C1332.7,155.6 1334.0,155.9 1335.3,156.2 C1336.7,156.6 1338.0,156.9 1339.3,157.3 C1340.7,157.7 1342.0,158.0 1343.3,158.4 C1344.7,158.8 1346.0,159.2 1347.3,159.7 C1348.7,160.1 1350.0,160.5 1351.3,161.0 C1352.7,161.4 1354.0,161.9 1355.3,162.4 C1356.7,162.9 1358.0,163.4 1359.3,163.9 C1360.7,164.4 1362.0,165.0 1363.3,165.5 C1364.7,166.1 1366.0,166.6 1367.3,167.2 C1368.7,167.8 1370.0,168.4 1371.3,169.0 C1372.7,169.6 1374.0,170.2 1375.3,170.9 C1376.7,171.5 1378.0,172.2 1379.3,172.9 C1380.7,173.6 1382.0,174.3 1383.3,175.0 C1384.7,175.7 1386.0,176.5 1387.3,177.2 C1388.7,178.0 1390.0,178.7 1391.3,179.5 C1392.7,180.3 1394.0,181.1 1395.3,182.0 C1396.7,182.8 1398.0,183.6 1399.3,184.5 C1400.7,185.4 1402.0,186.3 1403.3,187.2 C1404.7,188.1 1406.0,189.0 1407.3,189.9 C1408.7,190.9 1410.0,191.9 1411.3,192.8 C1412.7,193.8 1414.0,194.8 1415.3,195.9 C1416.7,196.9 1418.0,197.9 1419.3,199.0 C1420.7,200.1 1422.0,201.2 1423.3,202.3 C1424.7,203.4 1426.0,204.5 1427.4,205.7 C1428.7,206.8 1430.0,208.0 1431.4,209.2 C1432.7,210.4 1434.0,211.6 1435.4,212.8 C1436.7,214.1 1438.0,215.3 1439.4,216.6 C1440.7,217.9 1442.0,219.1 1443.4,220.4 C1444.7,221.8 1446.0,223.1 1447.4,224.4 C1448.7,225.8 1450.0,227.1 1451.4,228.5 C1452.7,229.9 1454.0,231.3 1455.4,232.7 C1456.7,234.1 1458.0,235.5 1459.4,236.9 C1460.7,238.4 1462.0,239.8 1463.4,241.3 C1464.7,242.7 1466.0,244.2 1467.4,245.7 C1468.7,247.2 1470.0,248.7 1471.4,250.2 C1472.7,251.7 1474.0,253.2 1475.4,254.8 C1476.7,256.3 1478.0,257.9 1479.4,259.4 C1480.7,261.0 1482.0,262.5 1483.4,264.1 C1484.7,265.7 1486.0,267.3 1487.4,268.9 C1488.7,270.5 1490.0,272.1 1491.4,273.7 C1492.7,275.3 1494.0,276.9 1495.4,278.5 C1496.7,280.2 1498.0,281.8 1499.4,283.4 C1500.7,285.1 1502.0,286.7 1503.4,288.4 C1504.7,290.0 1506.0,291.7 1507.4,293.3 C1508.7,295.0 1510.0,296.6 1511.4,298.3 C1512.7,300.0 1514.0,301.6 1515.4,303.3 C1516.7,305.0 1518.0,306.7 1519.4,308.3 C1520.7,310.0 1522.0,311.7 1523.4,313.4 C1524.7,315.0 1526.0,316.7 1527.4,318.4 C1528.7,320.1 1530.0,321.8 1531.4,323.5 C1532.7,325.1 1534.0,326.8 1535.4,328.5 C1536.7,330.2 1538.1,331.8 1539.4,333.5 C1540.7,335.2 1542.1,336.9 1543.4,338.5 C1544.7,340.2 1546.1,341.9 1547.4,343.5 C1548.7,345.2 1550.1,346.8 1551.4,348.5 C1552.7,350.2 1554.1,351.8 1555.4,353.4 C1556.7,355.1 1558.1,356.7 1559.4,358.4 C1560.7,360.0 1562.1,361.6 1563.4,363.2 C1564.7,364.8 1566.1,366.4 1567.4,368.0 C1568.7,369.6 1570.1,371.2 1571.4,372.8 C1572.7,374.4 1574.1,376.0 1575.4,377.5 C1576.7,379.1 1578.1,380.7 1579.4,382.2 C1580.7,383.8 1582.1,385.3 1583.4,386.8 C1584.7,388.3 1586.1,389.8 1587.4,391.3 C1588.7,392.8 1590.7,395.1 1591.4,395.8" stroke="#4fa882" stroke-width="2.6" fill="none" stroke-linejoin="round" stroke-linecap="round"/>
<path d="M935.2,397.1 C935.9,390.4 937.9,368.9 939.2,356.6 C940.5,344.2 941.9,333.2 943.2,322.9 C944.5,312.7 945.9,303.7 947.2,295.3 C948.5,287.0 949.9,279.6 951.2,272.8 C952.5,266.0 953.9,260.1 955.2,254.6 C956.5,249.1 957.9,244.3 959.2,239.8 C960.5,235.2 961.9,231.2 963.2,227.4 C964.5,223.6 965.9,220.1 967.2,216.7 C968.5,213.3 969.9,210.2 971.2,207.2 C972.5,204.2 973.9,201.4 975.2,198.8 C976.5,196.2 977.9,193.7 979.2,191.4 C980.5,189.1 981.9,187.0 983.2,185.0 C984.5,183.0 985.9,181.2 987.2,179.5 C988.5,177.8 989.9,176.2 991.2,174.7 C992.6,173.3 993.9,172.0 995.2,170.7 C996.6,169.5 997.9,168.4 999.2,167.3 C1000.6,166.3 1001.9,165.4 1003.2,164.5 C1004.6,163.7 1005.9,162.9 1007.2,162.2 C1008.6,161.5 1009.9,160.9 1011.2,160.3 C1012.6,159.7 1013.9,159.2 1015.2,158.7 C1016.6,158.2 1017.9,157.8 1019.2,157.4 C1020.6,157.0 1021.9,156.7 1023.2,156.3 C1024.6,156.0 1025.9,155.8 1027.2,155.5 C1028.6,155.3 1029.9,155.1 1031.2,154.9 C1032.6,154.7 1033.9,154.6 1035.2,154.5 C1036.6,154.4 1037.9,154.4 1039.2,154.3 C1040.6,154.3 1041.9,154.3 1043.2,154.3 C1044.6,154.4 1045.9,154.4 1047.2,154.5 C1048.6,154.6 1049.9,154.7 1051.2,154.8 C1052.6,155.0 1053.9,155.1 1055.2,155.3 C1056.6,155.5 1057.9,155.7 1059.2,156.0 C1060.6,156.2 1061.9,156.5 1063.2,156.7 C1064.6,157.0 1065.9,157.3 1067.2,157.6 C1068.6,158.0 1069.9,158.3 1071.2,158.6 C1072.6,159.0 1073.9,159.4 1075.2,159.7 C1076.6,160.1 1077.9,160.5 1079.2,160.9 C1080.6,161.3 1081.9,161.7 1083.2,162.2 C1084.6,162.6 1085.9,163.0 1087.2,163.5 C1088.6,163.9 1089.9,164.4 1091.2,164.9 C1092.6,165.3 1093.9,165.8 1095.2,166.3 C1096.6,166.7 1097.9,167.2 1099.2,167.7 C1100.6,168.2 1101.9,168.7 1103.3,169.1 C1104.6,169.6 1105.9,170.1 1107.3,170.6 C1108.6,171.1 1109.9,171.6 1111.3,172.0 C1112.6,172.5 1113.9,173.0 1115.3,173.5 C1116.6,173.9 1117.9,174.4 1119.3,174.9 C1120.6,175.3 1121.9,175.8 1123.3,176.2 C1124.6,176.7 1125.9,177.1 1127.3,177.5 C1128.6,178.0 1129.9,178.4 1131.3,178.8 C1132.6,179.2 1133.9,179.6 1135.3,180.0 C1136.6,180.4 1137.9,180.8 1139.3,181.2 C1140.6,181.6 1141.9,181.9 1143.3,182.3 C1144.6,182.7 1145.9,183.0 1147.3,183.4 C1148.6,183.7 1149.9,184.1 1151.3,184.4 C1152.6,184.8 1153.9,185.1 1155.3,185.4 C1156.6,185.7 1157.9,186.1 1159.3,186.4 C1160.6,186.7 1161.9,187.0 1163.3,187.3 C1164.6,187.6 1165.9,187.9 1167.3,188.1 C1168.6,188.4 1169.9,188.7 1171.3,189.0 C1172.6,189.2 1173.9,189.5 1175.3,189.7 C1176.6,190.0 1177.9,190.2 1179.3,190.5 C1180.6,190.7 1181.9,190.9 1183.3,191.2 C1184.6,191.4 1185.9,191.6 1187.3,191.8 C1188.6,192.0 1189.9,192.2 1191.3,192.4 C1192.6,192.6 1193.9,192.8 1195.3,193.0 C1196.6,193.2 1197.9,193.4 1199.3,193.5 C1200.6,193.7 1201.9,193.9 1203.3,194.0 C1204.6,194.2 1205.9,194.3 1207.3,194.5 C1208.6,194.6 1210.0,194.7 1211.3,194.9 C1212.6,195.0 1214.0,195.1 1215.3,195.3 C1216.6,195.4 1218.0,195.5 1219.3,195.6 C1220.6,195.7 1222.0,195.8 1223.3,195.9 C1224.6,196.0 1226.0,196.1 1227.3,196.2 C1228.6,196.3 1230.0,196.4 1231.3,196.5 C1232.6,196.6 1234.0,196.7 1235.3,196.8 C1236.6,196.9 1238.0,197.0 1239.3,197.1 C1240.6,197.2 1242.0,197.3 1243.3,197.3 C1244.6,197.4 1246.0,197.5 1247.3,197.6 C1248.6,197.7 1250.0,197.8 1251.3,197.9 C1252.6,198.0 1254.0,198.1 1255.3,198.2 C1256.6,198.3 1258.0,198.4 1259.3,198.5 C1260.6,198.6 1262.0,198.7 1263.3,198.8 C1264.6,198.9 1266.0,199.0 1267.3,199.1 C1268.6,199.2 1270.0,199.3 1271.3,199.5 C1272.6,199.6 1274.0,199.7 1275.3,199.9 C1276.6,200.0 1278.0,200.1 1279.3,200.3 C1280.6,200.4 1282.0,200.6 1283.3,200.8 C1284.6,200.9 1286.0,201.1 1287.3,201.3 C1288.6,201.5 1290.0,201.6 1291.3,201.8 C1292.6,202.0 1294.0,202.2 1295.3,202.4 C1296.6,202.7 1298.0,202.9 1299.3,203.1 C1300.6,203.3 1302.0,203.6 1303.3,203.8 C1304.6,204.1 1306.0,204.4 1307.3,204.6 C1308.6,204.9 1310.0,205.2 1311.3,205.5 C1312.6,205.8 1314.0,206.1 1315.3,206.4 C1316.6,206.8 1318.0,207.1 1319.3,207.5 C1320.7,207.8 1322.0,208.2 1323.3,208.6 C1324.7,208.9 1326.0,209.3 1327.3,209.8 C1328.7,210.2 1330.0,210.6 1331.3,211.0 C1332.7,211.5 1334.0,211.9 1335.3,212.4 C1336.7,212.9 1338.0,213.4 1339.3,213.9 C1340.7,214.4 1342.0,214.9 1343.3,215.4 C1344.7,215.9 1346.0,216.5 1347.3,217.0 C1348.7,217.6 1350.0,218.1 1351.3,218.7 C1352.7,219.3 1354.0,219.9 1355.3,220.5 C1356.7,221.1 1358.0,221.7 1359.3,222.4 C1360.7,223.0 1362.0,223.6 1363.3,224.3 C1364.7,224.9 1366.0,225.6 1367.3,226.2 C1368.7,226.9 1370.0,227.6 1371.3,228.3 C1372.7,229.0 1374.0,229.7 1375.3,230.4 C1376.7,231.1 1378.0,231.8 1379.3,232.5 C1380.7,233.2 1382.0,234.0 1383.3,234.7 C1384.7,235.4 1386.0,236.2 1387.3,237.0 C1388.7,237.7 1390.0,238.5 1391.3,239.3 C1392.7,240.0 1394.0,240.8 1395.3,241.6 C1396.7,242.5 1398.0,243.3 1399.3,244.1 C1400.7,244.9 1402.0,245.8 1403.3,246.7 C1404.7,247.5 1406.0,248.4 1407.3,249.3 C1408.7,250.2 1410.0,251.1 1411.3,252.1 C1412.7,253.0 1414.0,254.0 1415.3,255.0 C1416.7,255.9 1418.0,256.9 1419.3,258.0 C1420.7,259.0 1422.0,260.0 1423.3,261.1 C1424.7,262.1 1426.0,263.2 1427.4,264.3 C1428.7,265.4 1430.0,266.5 1431.4,267.6 C1432.7,268.7 1434.0,269.9 1435.4,271.0 C1436.7,272.2 1438.0,273.4 1439.4,274.6 C1440.7,275.7 1442.0,277.0 1443.4,278.2 C1444.7,279.4 1446.0,280.7 1447.4,281.9 C1448.7,283.2 1450.0,284.5 1451.4,285.8 C1452.7,287.1 1454.0,288.4 1455.4,289.7 C1456.7,291.0 1458.0,292.4 1459.4,293.7 C1460.7,295.1 1462.0,296.5 1463.4,297.9 C1464.7,299.3 1466.0,300.7 1467.4,302.1 C1468.7,303.5 1470.0,304.9 1471.4,306.4 C1472.7,307.8 1474.0,309.3 1475.4,310.8 C1476.7,312.3 1478.0,313.8 1479.4,315.3 C1480.7,316.8 1482.0,318.3 1483.4,319.9 C1484.7,321.4 1486.0,323.0 1487.4,324.5 C1488.7,326.1 1490.0,327.7 1491.4,329.3 C1492.7,330.9 1494.0,332.5 1495.4,334.1 C1496.7,335.7 1498.0,337.4 1499.4,339.0 C1500.7,340.7 1502.0,342.3 1503.4,344.0 C1504.7,345.6 1506.0,347.3 1507.4,349.0 C1508.7,350.6 1510.0,352.3 1511.4,354.0 C1512.7,355.7 1514.0,357.3 1515.4,359.0 C1516.7,360.7 1518.0,362.4 1519.4,364.1 C1520.7,365.7 1522.0,367.4 1523.4,369.1 C1524.7,370.8 1526.0,372.5 1527.4,374.1 C1528.7,375.8 1530.0,377.5 1531.4,379.1 C1532.7,380.8 1534.0,382.4 1535.4,384.0 C1536.7,385.7 1538.1,387.3 1539.4,388.9 C1540.7,390.5 1542.1,392.2 1543.4,393.7 C1544.7,395.3 1546.1,396.9 1547.4,398.5 C1548.7,400.0 1550.1,401.6 1551.4,403.1 C1552.7,404.6 1554.1,406.1 1555.4,407.6 C1556.7,409.1 1558.1,410.6 1559.4,412.0 C1560.7,413.5 1562.1,414.9 1563.4,416.3 C1564.7,417.7 1566.1,419.1 1567.4,420.4 C1568.7,421.8 1570.1,423.1 1571.4,424.4 C1572.7,425.7 1574.1,426.9 1575.4,428.2 C1576.7,429.4 1578.1,430.6 1579.4,431.8 C1580.7,433.0 1582.1,434.1 1583.4,435.2 C1584.7,436.3 1586.1,437.4 1587.4,438.4 C1588.7,439.4 1590.7,440.9 1591.4,441.4" stroke="#dc4a5c" stroke-width="2.6" fill="none" stroke-linejoin="round" stroke-linecap="round"/>
<path d="M935.2,396.9 C935.9,389.9 937.9,367.4 939.2,355.0 C940.5,342.6 941.9,332.0 943.2,322.3 C944.5,312.6 945.9,304.4 947.2,296.8 C948.5,289.1 949.9,282.5 951.2,276.4 C952.5,270.2 953.9,264.8 955.2,259.7 C956.5,254.5 957.9,250.0 959.2,245.5 C960.5,241.0 961.9,236.8 963.2,232.6 C964.5,228.5 965.9,224.4 967.2,220.4 C968.5,216.5 969.9,212.7 971.2,209.0 C972.5,205.4 973.9,201.9 975.2,198.7 C976.5,195.5 977.9,192.4 979.2,189.6 C980.5,186.8 981.9,184.1 983.2,181.7 C984.5,179.2 985.9,177.0 987.2,174.9 C988.5,172.7 989.8,170.8 991.2,169.0 C992.5,167.2 993.8,165.5 995.2,163.9 C996.5,162.4 997.8,161.0 999.2,159.7 C1000.5,158.4 1001.8,157.2 1003.2,156.2 C1004.5,155.1 1005.8,154.2 1007.2,153.3 C1008.5,152.5 1009.8,151.7 1011.2,151.0 C1012.5,150.4 1013.8,149.8 1015.2,149.3 C1016.5,148.9 1017.8,148.5 1019.2,148.1 C1020.5,147.8 1021.8,147.6 1023.2,147.4 C1024.5,147.2 1025.8,147.1 1027.2,147.0 C1028.5,146.9 1029.8,146.9 1031.2,146.9 C1032.5,147.0 1033.8,147.0 1035.2,147.1 C1036.5,147.3 1037.8,147.4 1039.2,147.6 C1040.5,147.8 1041.8,148.0 1043.2,148.2 C1044.5,148.5 1045.8,148.7 1047.2,149.0 C1048.5,149.3 1049.8,149.7 1051.2,150.0 C1052.5,150.4 1053.8,150.8 1055.2,151.2 C1056.5,151.6 1057.8,152.1 1059.2,152.5 C1060.5,153.0 1061.8,153.5 1063.2,154.0 C1064.5,154.6 1065.8,155.1 1067.2,155.7 C1068.5,156.2 1069.8,156.8 1071.2,157.5 C1072.5,158.1 1073.8,158.7 1075.2,159.4 C1076.5,160.0 1077.8,160.7 1079.2,161.4 C1080.5,162.1 1081.8,162.8 1083.2,163.6 C1084.5,164.3 1085.8,165.1 1087.2,165.8 C1088.5,166.6 1089.8,167.4 1091.2,168.2 C1092.5,169.0 1093.8,169.8 1095.2,170.6 C1096.5,171.4 1097.8,172.3 1099.1,173.1 C1100.5,174.0 1101.8,174.8 1103.1,175.7 C1104.5,176.5 1105.8,177.4 1107.1,178.3 C1108.5,179.2 1109.8,180.1 1111.1,181.0 C1112.5,181.9 1113.8,182.8 1115.1,183.7 C1116.5,184.6 1117.8,185.5 1119.1,186.4 C1120.5,187.3 1121.8,188.2 1123.1,189.1 C1124.5,190.0 1125.8,191.0 1127.1,191.9 C1128.5,192.8 1129.8,193.7 1131.1,194.6 C1132.5,195.5 1133.8,196.4 1135.1,197.3 C1136.5,198.2 1137.8,199.1 1139.1,200.0 C1140.5,200.9 1141.8,201.8 1143.1,202.6 C1144.5,203.5 1145.8,204.4 1147.1,205.2 C1148.5,206.1 1149.8,206.9 1151.1,207.8 C1152.5,208.6 1153.8,209.4 1155.1,210.2 C1156.5,211.0 1157.8,211.8 1159.1,212.6 C1160.5,213.4 1161.8,214.2 1163.1,214.9 C1164.5,215.7 1165.8,216.4 1167.1,217.1 C1168.5,217.8 1169.8,218.5 1171.1,219.2 C1172.5,219.9 1173.8,220.6 1175.1,221.2 C1176.5,221.9 1177.8,222.5 1179.1,223.2 C1180.5,223.8 1181.8,224.4 1183.1,225.0 C1184.5,225.6 1185.8,226.2 1187.1,226.8 C1188.5,227.3 1189.8,227.9 1191.1,228.5 C1192.5,229.0 1193.8,229.5 1195.1,230.1 C1196.5,230.6 1197.8,231.1 1199.1,231.6 C1200.5,232.1 1201.8,232.6 1203.1,233.1 C1204.5,233.6 1205.8,234.0 1207.1,234.5 C1208.4,235.0 1209.8,235.4 1211.1,235.9 C1212.4,236.3 1213.8,236.7 1215.1,237.2 C1216.4,237.6 1217.8,238.0 1219.1,238.4 C1220.4,238.8 1221.8,239.2 1223.1,239.6 C1224.4,240.0 1225.8,240.4 1227.1,240.8 C1228.4,241.2 1229.8,241.6 1231.1,241.9 C1232.4,242.3 1233.8,242.7 1235.1,243.1 C1236.4,243.4 1237.8,243.8 1239.1,244.1 C1240.4,244.5 1241.8,244.8 1243.1,245.2 C1244.4,245.5 1245.8,245.9 1247.1,246.2 C1248.4,246.6 1249.8,246.9 1251.1,247.2 C1252.4,247.6 1253.8,247.9 1255.1,248.2 C1256.4,248.6 1257.8,248.9 1259.1,249.2 C1260.4,249.6 1261.8,249.9 1263.1,250.2 C1264.4,250.6 1265.8,250.9 1267.1,251.2 C1268.4,251.6 1269.8,251.9 1271.1,252.2 C1272.4,252.6 1273.8,252.9 1275.1,253.2 C1276.4,253.6 1277.8,253.9 1279.1,254.2 C1280.4,254.6 1281.8,254.9 1283.1,255.3 C1284.4,255.6 1285.8,256.0 1287.1,256.3 C1288.4,256.7 1289.8,257.1 1291.1,257.4 C1292.4,257.8 1293.8,258.2 1295.1,258.5 C1296.4,258.9 1297.8,259.3 1299.1,259.7 C1300.4,260.1 1301.8,260.4 1303.1,260.8 C1304.4,261.2 1305.8,261.7 1307.1,262.1 C1308.4,262.5 1309.8,262.9 1311.1,263.3 C1312.4,263.8 1313.7,264.2 1315.1,264.6 C1316.4,265.1 1317.7,265.5 1319.1,266.0 C1320.4,266.5 1321.7,266.9 1323.1,267.4 C1324.4,267.9 1325.7,268.4 1327.1,268.9 C1328.4,269.4 1329.7,269.9 1331.1,270.5 C1332.4,271.0 1333.7,271.5 1335.1,272.1 C1336.4,272.6 1337.7,273.2 1339.1,273.8 C1340.4,274.3 1341.7,274.9 1343.1,275.5 C1344.4,276.1 1345.7,276.8 1347.1,277.4 C1348.4,278.0 1349.7,278.7 1351.1,279.3 C1352.4,280.0 1353.7,280.7 1355.1,281.3 C1356.4,282.0 1357.7,282.7 1359.1,283.5 C1360.4,284.2 1361.7,284.9 1363.1,285.7 C1364.4,286.4 1365.7,287.2 1367.1,288.0 C1368.4,288.7 1369.7,289.5 1371.1,290.4 C1372.4,291.2 1373.7,292.0 1375.1,292.8 C1376.4,293.7 1377.7,294.5 1379.1,295.4 C1380.4,296.2 1381.7,297.1 1383.1,298.0 C1384.4,298.9 1385.7,299.8 1387.1,300.7 C1388.4,301.7 1389.7,302.6 1391.1,303.5 C1392.4,304.5 1393.7,305.4 1395.1,306.4 C1396.4,307.4 1397.7,308.3 1399.1,309.3 C1400.4,310.3 1401.7,311.3 1403.1,312.4 C1404.4,313.4 1405.7,314.4 1407.1,315.4 C1408.4,316.5 1409.7,317.5 1411.1,318.6 C1412.4,319.7 1413.7,320.7 1415.1,321.8 C1416.4,322.9 1417.7,324.0 1419.1,325.1 C1420.4,326.2 1421.7,327.3 1423.0,328.5 C1424.4,329.6 1425.7,330.7 1427.0,331.9 C1428.4,333.0 1429.7,334.2 1431.0,335.4 C1432.4,336.5 1433.7,337.7 1435.0,338.9 C1436.4,340.1 1437.7,341.3 1439.0,342.5 C1440.4,343.7 1441.7,344.9 1443.0,346.1 C1444.4,347.3 1445.7,348.6 1447.0,349.8 C1448.4,351.0 1449.7,352.3 1451.0,353.5 C1452.4,354.8 1453.7,356.0 1455.0,357.3 C1456.4,358.6 1457.7,359.9 1459.0,361.2 C1460.4,362.4 1461.7,363.7 1463.0,365.0 C1464.4,366.3 1465.7,367.6 1467.0,368.9 C1468.4,370.3 1469.7,371.6 1471.0,372.9 C1472.4,374.2 1473.7,375.6 1475.0,376.9 C1476.4,378.2 1477.7,379.6 1479.0,380.9 C1480.4,382.3 1481.7,383.6 1483.0,385.0 C1484.4,386.4 1485.7,387.7 1487.0,389.1 C1488.4,390.5 1489.7,391.8 1491.0,393.2 C1492.4,394.6 1493.7,396.0 1495.0,397.4 C1496.4,398.8 1497.7,400.2 1499.0,401.6 C1500.4,403.0 1501.7,404.4 1503.0,405.8 C1504.4,407.2 1505.7,408.6 1507.0,410.0 C1508.4,411.4 1509.7,412.8 1511.0,414.2 C1512.4,415.6 1513.7,417.0 1515.0,418.4 C1516.4,419.9 1517.7,421.3 1519.0,422.7 C1520.4,424.1 1521.7,425.5 1523.0,426.9 C1524.4,428.3 1525.7,429.7 1527.0,431.1 C1528.4,432.5 1529.7,433.9 1531.0,435.3 C1532.3,436.7 1533.7,438.1 1535.0,439.5 C1536.3,440.9 1537.7,442.3 1539.0,443.7 C1540.3,445.1 1541.7,446.5 1543.0,447.8 C1544.3,449.2 1545.7,450.6 1547.0,452.0 C1548.3,453.3 1549.7,454.7 1551.0,456.0 C1552.3,457.4 1553.7,458.7 1555.0,460.1 C1556.3,461.4 1557.7,462.7 1559.0,464.1 C1560.3,465.4 1561.7,466.7 1563.0,468.0 C1564.3,469.3 1565.7,470.6 1567.0,471.9 C1568.3,473.2 1569.7,474.5 1571.0,475.7 C1572.3,477.0 1573.7,478.3 1575.0,479.5 C1576.3,480.7 1577.7,482.0 1579.0,483.2 C1580.3,484.4 1582.3,486.2 1583.0,486.8" stroke="#3f72c8" stroke-width="2.6" fill="none" stroke-linejoin="round" stroke-linecap="round"/>
<line x1="1050.5" y1="292.4" x2="1130.1" y2="292.4" stroke="#4a4a4a" stroke-width="2.6"/>
<text transform="translate(1138.5,303.3) scale(1.138,1)" font-size="31" text-anchor="start" ><tspan font-style="italic">d</tspan><tspan font-style="italic" font-size="17" dy="6">1</tspan><tspan dy="-6">=0.8 μm</tspan></text>
<line x1="1050.5" y1="336.9" x2="1130.1" y2="336.9" stroke="#4fa882" stroke-width="2.6"/>
<text transform="translate(1138.5,347.8) scale(1.138,1)" font-size="31" text-anchor="start" ><tspan font-style="italic">d</tspan><tspan font-style="italic" font-size="17" dy="6">1</tspan><tspan dy="-6">=0.84 μm</tspan></text>
<line x1="1050.5" y1="381.1" x2="1130.1" y2="381.1" stroke="#dc4a5c" stroke-width="2.6"/>
<text transform="translate(1138.5,392.0) scale(1.138,1)" font-size="31" text-anchor="start" ><tspan font-style="italic">d</tspan><tspan font-style="italic" font-size="17" dy="6">1</tspan><tspan dy="-6">=0.88 μm</tspan></text>
<line x1="1050.5" y1="425.4" x2="1130.1" y2="425.4" stroke="#3f72c8" stroke-width="2.6"/>
<text transform="translate(1138.5,436.3) scale(1.138,1)" font-size="31" text-anchor="start" ><tspan font-style="italic">d</tspan><tspan font-style="italic" font-size="17" dy="6">1</tspan><tspan dy="-6">=0.92 μm</tspan></text>
<rect x="128" y="687" width="629.0" height="470.5" fill="none" stroke="#1e1e1e" stroke-width="2.6"/>
<path d="M267.8,1157.5v-9 M267.8,687.0v9 M407.6,1157.5v-9 M407.6,687.0v9 M547.3,1157.5v-9 M547.3,687.0v9 M687.1,1157.5v-9 M687.1,687.0v9 M197.9,1157.5v-5 M197.9,687.0v5 M337.7,1157.5v-5 M337.7,687.0v5 M477.4,1157.5v-5 M477.4,687.0v5 M617.2,1157.5v-5 M617.2,687.0v5 " stroke="#1e1e1e" stroke-width="2.4" fill="none"/>
<path d="M128.0,821.4h9 M757.0,821.4h-9 M128.0,955.9h9 M757.0,955.9h-9 M128.0,1090.3h9 M757.0,1090.3h-9 M128.0,754.2h5 M757.0,754.2h-5 M128.0,888.6h5 M757.0,888.6h-5 M128.0,1023.1h5 M757.0,1023.1h-5 " stroke="#1e1e1e" stroke-width="2.4" fill="none"/>
<text transform="translate(117.5,697.0) scale(1.090,1)" font-size="31" text-anchor="end" >20</text>
<text transform="translate(117.5,831.4) scale(1.090,1)" font-size="31" text-anchor="end" >0</text>
<text transform="translate(117.5,965.9) scale(1.090,1)" font-size="31" text-anchor="end" >-20</text>
<text transform="translate(117.5,1100.3) scale(1.090,1)" font-size="31" text-anchor="end" >-40</text>
<text transform="translate(128.0,1191.9) scale(1.090,1)" font-size="31" text-anchor="middle" >1000</text>
<text transform="translate(267.8,1191.9) scale(1.090,1)" font-size="31" text-anchor="middle" >2000</text>
<text transform="translate(407.6,1191.9) scale(1.090,1)" font-size="31" text-anchor="middle" >3000</text>
<text transform="translate(547.3,1191.9) scale(1.090,1)" font-size="31" text-anchor="middle" >4000</text>
<text transform="translate(687.1,1191.9) scale(1.090,1)" font-size="31" text-anchor="middle" >5000</text>
<text transform="translate(444.2,1245.0) scale(1.086,1)" font-size="40" text-anchor="middle" >Wavelength (nm)</text>
<text transform="translate(432.0,1302.0) scale(1.000,1)" font-size="46.5" text-anchor="middle" >(c)</text>
<text transform="translate(50.5,921.4) rotate(-90) scale(1,1.080)" font-size="40.7" text-anchor="middle">Dispersion (ps·nm<tspan dy="-14" font-size="20">-1</tspan><tspan dy="14">km</tspan><tspan dy="-14" font-size="20">-1</tspan><tspan dy="14">)</tspan></text>
<path d="M224.4,687 V1157.5 M530,687 V1157.5 M128,821.6 H757" stroke="#444" stroke-width="2" stroke-dasharray="12,6" fill="none"/>
<path d="M128.5,1055.2 C129.2,1050.5 131.2,1035.5 132.5,1026.5 C133.8,1017.4 135.2,1008.9 136.5,1000.8 C137.8,992.7 139.2,985.1 140.5,978.0 C141.8,970.8 143.2,964.1 144.5,957.8 C145.8,951.4 147.2,945.5 148.5,939.9 C149.9,934.3 151.2,929.1 152.5,924.2 C153.9,919.3 155.2,914.7 156.5,910.4 C157.9,906.1 159.2,902.0 160.5,898.2 C161.9,894.4 163.2,890.8 164.5,887.4 C165.9,884.1 167.2,880.9 168.5,877.9 C169.9,875.0 171.2,872.2 172.5,869.6 C173.9,867.0 175.2,864.7 176.5,862.4 C177.9,860.2 179.2,858.1 180.5,856.2 C181.9,854.2 183.2,852.5 184.5,850.8 C185.9,849.2 187.2,847.7 188.5,846.2 C189.9,844.8 191.2,843.6 192.6,842.4 C193.9,841.2 195.2,840.1 196.6,839.1 C197.9,838.1 199.2,837.1 200.6,836.3 C201.9,835.4 203.2,834.6 204.6,833.9 C205.9,833.1 207.2,832.4 208.6,831.8 C209.9,831.1 211.2,830.6 212.6,830.0 C213.9,829.5 215.2,829.0 216.6,828.6 C217.9,828.1 219.2,827.8 220.6,827.4 C221.9,827.1 223.2,826.8 224.6,826.5 C225.9,826.2 227.2,826.0 228.6,825.8 C229.9,825.6 231.2,825.4 232.6,825.3 C233.9,825.2 235.3,825.1 236.6,825.0 C237.9,825.0 239.3,824.9 240.6,824.9 C241.9,824.9 243.3,824.9 244.6,824.9 C245.9,825.0 247.3,825.0 248.6,825.1 C249.9,825.1 251.3,825.2 252.6,825.3 C253.9,825.4 255.3,825.5 256.6,825.7 C257.9,825.8 259.3,825.9 260.6,826.1 C261.9,826.2 263.3,826.3 264.6,826.5 C265.9,826.6 267.3,826.8 268.6,826.9 C269.9,827.1 271.3,827.2 272.6,827.4 C273.9,827.5 275.3,827.7 276.6,827.8 C278.0,827.9 279.3,828.1 280.6,828.2 C282.0,828.3 283.3,828.4 284.6,828.5 C286.0,828.6 287.3,828.6 288.6,828.7 C290.0,828.8 291.3,828.8 292.6,828.9 C294.0,828.9 295.3,829.0 296.6,829.0 C298.0,829.0 299.3,829.1 300.6,829.1 C302.0,829.1 303.3,829.1 304.6,829.1 C306.0,829.1 307.3,829.0 308.6,829.0 C310.0,829.0 311.3,829.0 312.6,828.9 C314.0,828.9 315.3,828.8 316.6,828.8 C318.0,828.7 319.3,828.7 320.7,828.6 C322.0,828.5 323.3,828.5 324.7,828.4 C326.0,828.3 327.3,828.2 328.7,828.1 C330.0,828.0 331.3,827.9 332.7,827.8 C334.0,827.7 335.3,827.6 336.7,827.4 C338.0,827.3 339.3,827.2 340.7,827.1 C342.0,826.9 343.3,826.8 344.7,826.7 C346.0,826.5 347.3,826.4 348.7,826.2 C350.0,826.1 351.3,825.9 352.7,825.8 C354.0,825.6 355.3,825.4 356.7,825.3 C358.0,825.1 359.4,825.0 360.7,824.8 C362.0,824.6 363.4,824.4 364.7,824.3 C366.0,824.1 367.4,823.9 368.7,823.7 C370.0,823.5 371.4,823.3 372.7,823.2 C374.0,823.0 375.4,822.8 376.7,822.6 C378.0,822.4 379.4,822.2 380.7,822.0 C382.0,821.8 383.4,821.6 384.7,821.4 C386.0,821.2 387.4,821.1 388.7,820.9 C390.0,820.7 391.4,820.5 392.7,820.3 C394.0,820.1 395.4,819.9 396.7,819.7 C398.0,819.5 399.4,819.3 400.7,819.1 C402.1,818.9 403.4,818.8 404.7,818.6 C406.1,818.4 407.4,818.2 408.7,818.0 C410.1,817.9 411.4,817.7 412.7,817.5 C414.1,817.4 415.4,817.2 416.7,817.0 C418.1,816.9 419.4,816.7 420.7,816.6 C422.1,816.4 423.4,816.3 424.7,816.1 C426.1,816.0 427.4,815.8 428.7,815.7 C430.1,815.6 431.4,815.5 432.7,815.4 C434.1,815.2 435.4,815.1 436.7,815.0 C438.1,814.9 439.4,814.9 440.7,814.8 C442.1,814.7 443.4,814.6 444.8,814.6 C446.1,814.5 447.4,814.4 448.8,814.4 C450.1,814.3 451.4,814.3 452.8,814.3 C454.1,814.3 455.4,814.2 456.8,814.2 C458.1,814.2 459.4,814.2 460.8,814.3 C462.1,814.3 463.4,814.3 464.8,814.3 C466.1,814.4 467.4,814.4 468.8,814.5 C470.1,814.6 471.4,814.7 472.8,814.8 C474.1,814.8 475.4,815.0 476.8,815.1 C478.1,815.2 479.4,815.3 480.8,815.5 C482.1,815.6 483.4,815.8 484.8,816.0 C486.1,816.2 487.5,816.4 488.8,816.6 C490.1,816.8 491.5,817.0 492.8,817.3 C494.1,817.5 495.5,817.8 496.8,818.0 C498.1,818.3 499.5,818.6 500.8,818.9 C502.1,819.2 503.5,819.6 504.8,819.9 C506.1,820.3 507.5,820.6 508.8,821.0 C510.1,821.4 511.5,821.8 512.8,822.3 C514.1,822.7 515.5,823.1 516.8,823.6 C518.1,824.1 519.5,824.6 520.8,825.1 C522.1,825.6 523.5,826.1 524.8,826.7 C526.1,827.2 527.5,827.8 528.8,828.4 C530.2,829.0 531.5,829.6 532.8,830.2 C534.2,830.9 535.5,831.5 536.8,832.2 C538.2,832.9 539.5,833.6 540.8,834.4 C542.2,835.1 543.5,835.9 544.8,836.6 C546.2,837.4 547.5,838.2 548.8,839.0 C550.2,839.9 551.5,840.7 552.8,841.6 C554.2,842.4 555.5,843.3 556.8,844.2 C558.2,845.1 559.5,846.0 560.8,847.0 C562.2,847.9 563.5,848.9 564.8,849.9 C566.2,850.8 567.5,851.8 568.9,852.8 C570.2,853.9 571.5,854.9 572.9,855.9 C574.2,857.0 575.5,858.0 576.9,859.1 C578.2,860.2 579.5,861.3 580.9,862.4 C582.2,863.5 583.5,864.6 584.9,865.8 C586.2,866.9 587.5,868.0 588.9,869.2 C590.2,870.4 591.5,871.5 592.9,872.7 C594.2,873.9 595.5,875.1 596.9,876.3 C598.2,877.5 599.5,878.8 600.9,880.0 C602.2,881.2 603.5,882.5 604.9,883.7 C606.2,885.0 607.5,886.3 608.9,887.5 C610.2,888.8 611.6,890.1 612.9,891.4 C614.2,892.7 615.6,894.0 616.9,895.3 C618.2,896.6 619.6,897.9 620.9,899.3 C622.2,900.6 623.6,901.9 624.9,903.3 C626.2,904.6 627.6,906.0 628.9,907.4 C630.2,908.7 631.6,910.1 632.9,911.5 C634.2,912.9 635.6,914.3 636.9,915.7 C638.2,917.1 639.6,918.5 640.9,919.9 C642.2,921.3 643.6,922.8 644.9,924.2 C646.2,925.7 647.6,927.1 648.9,928.6 C650.2,930.0 651.6,931.5 652.9,933.0 C654.3,934.4 655.6,935.9 656.9,937.4 C658.3,938.9 659.6,940.4 660.9,941.9 C662.3,943.4 663.6,944.9 664.9,946.5 C666.3,948.0 667.6,949.5 668.9,951.1 C670.3,952.6 671.6,954.2 672.9,955.7 C674.3,957.3 675.6,958.9 676.9,960.4 C678.3,962.0 679.6,963.6 680.9,965.2 C682.3,966.8 683.6,968.4 684.9,970.0 C686.3,971.6 687.6,973.2 688.9,974.9 C690.3,976.5 691.6,978.1 692.9,979.8 C694.3,981.4 695.6,983.1 697.0,984.7 C698.3,986.4 699.6,988.1 701.0,989.7 C702.3,991.4 703.6,993.1 705.0,994.8 C706.3,996.5 707.6,998.2 709.0,999.9 C710.3,1001.6 711.6,1003.3 713.0,1005.0 C714.3,1006.8 715.6,1008.5 717.0,1010.2 C718.3,1012.0 719.6,1013.7 721.0,1015.5 C722.3,1017.2 723.6,1019.0 725.0,1020.8 C726.3,1022.5 727.6,1024.3 729.0,1026.1 C730.3,1027.9 731.6,1029.7 733.0,1031.5 C734.3,1033.3 735.6,1035.1 737.0,1036.9 C738.3,1038.7 739.7,1040.6 741.0,1042.4 C742.3,1044.2 743.7,1046.1 745.0,1047.9 C746.3,1049.8 747.7,1051.6 749.0,1053.5 C750.3,1055.3 751.7,1057.2 753.0,1059.1 C754.3,1061.0 756.3,1063.8 757.0,1064.7" stroke="#222" stroke-width="2.6" fill="none" stroke-linejoin="round" stroke-linecap="round"/>
<path d="M458,814 V774" stroke="#222" stroke-width="2"/>
<path d="M458,762 L452.5,775 L463.5,775 Z" fill="#222"/>
<path d="M312,830 V878" stroke="#222" stroke-width="2"/>
<path d="M312,890 L306.5,877 L317.5,877 Z" fill="#222"/>
<path d="M240,998 H270" stroke="#222" stroke-width="2"/>
<path d="M225,998 L242,993.5 L242,1002.5 Z" fill="#222"/>
<path d="M545,998 H572" stroke="#222" stroke-width="2"/>
<path d="M530.5,998 L547,993.5 L547,1002.5 Z" fill="#222"/>
<text transform="translate(404.5,749.0) scale(1.028,1)" font-size="30" text-anchor="start" >1.066 ps·nm<tspan dy="-13" font-size="18">-1</tspan><tspan dy="13">km</tspan><tspan dy="-13" font-size="18">-1</tspan></text>
<text transform="translate(243.0,926.0) scale(1.036,1)" font-size="30" text-anchor="start" >-1.058 ps·nm<tspan dy="-13" font-size="18">-1</tspan><tspan dy="13">km</tspan><tspan dy="-13" font-size="18">-1</tspan></text>
<text transform="translate(271.2,1006.7) scale(1.037,1)" font-size="29.5" text-anchor="start" >1700 nm</text>
<text transform="translate(575.6,1006.5) scale(1.025,1)" font-size="29.5" text-anchor="start" >3870 nm</text>
<text transform="translate(245.0,1073.5) scale(1.059,1)" font-size="29" text-anchor="start" ><tspan font-style="italic">a</tspan>= 0.42 μm, <tspan font-style="italic">d</tspan><tspan font-style="italic" font-size="16" dy="5">1</tspan><tspan dy="-5">= 0.84 μm</tspan></text>
<text transform="translate(247.2,1107.0) scale(1.034,1)" font-size="29" text-anchor="start" ><tspan font-style="italic">Λ</tspan>=2 μm, <tspan font-style="italic">d</tspan>=1.5 μm</text>
<rect x="929" y="671.4" width="413.5" height="499.8" fill="none" stroke="#1e1e1e" stroke-width="2.6"/>
<path d="M970.4,1171.2v-9 M970.4,671.4v9 M1053.0,1171.2v-9 M1053.0,671.4v9 M1135.8,1171.2v-9 M1135.8,671.4v9 M1218.5,1171.2v-9 M1218.5,671.4v9 M1301.2,1171.2v-9 M1301.2,671.4v9 M1011.7,1171.2v-5 M1011.7,671.4v5 M1094.4,1171.2v-5 M1094.4,671.4v5 M1177.1,1171.2v-5 M1177.1,671.4v5 M1259.8,1171.2v-5 M1259.8,671.4v5 " stroke="#1e1e1e" stroke-width="2.4" fill="none"/>
<path d="M929.0,1037.9h9 M1342.5,1037.9h-9 M929.0,904.6h9 M1342.5,904.6h-9 M929.0,771.4h9 M1342.5,771.4h-9 M929.0,1104.6h5 M1342.5,1104.6h-5 M929.0,971.3h5 M1342.5,971.3h-5 M929.0,838.0h5 M1342.5,838.0h-5 M929.0,704.7h5 M1342.5,704.7h-5 " stroke="#1e1e1e" stroke-width="2.4" fill="none"/>
<text transform="translate(917.0,1180.5) scale(1.180,1)" font-size="32" text-anchor="end" >0</text>
<text transform="translate(917.0,1047.2) scale(1.180,1)" font-size="32" text-anchor="end" >20</text>
<text transform="translate(917.0,913.9) scale(1.180,1)" font-size="32" text-anchor="end" >40</text>
<text transform="translate(917.0,780.7) scale(1.180,1)" font-size="32" text-anchor="end" >60</text>
<text transform="translate(970.4,1206.9) scale(1.150,1)" font-size="31.5" text-anchor="middle" >-4</text>
<text transform="translate(1053.0,1206.9) scale(1.150,1)" font-size="31.5" text-anchor="middle" >-2</text>
<text transform="translate(1135.8,1206.9) scale(1.150,1)" font-size="31.5" text-anchor="middle" >0</text>
<text transform="translate(1218.5,1206.9) scale(1.150,1)" font-size="31.5" text-anchor="middle" >2</text>
<text transform="translate(1301.2,1206.9) scale(1.150,1)" font-size="31.5" text-anchor="middle" >4</text>
<text transform="translate(1137.2,1254.9) scale(1.108,1)" font-size="43.5" text-anchor="middle" >Y-axis position (μm)</text>
<text transform="translate(1240.9,1308.0) scale(1.000,1)" font-size="46.5" text-anchor="middle" >(d)</text>
<text transform="translate(851.0,922.5) rotate(-90) scale(1,1.180)" font-size="42" text-anchor="middle">Normalized intensity</text>
<path d="M929.0,1171.2 C934.2,1171.2 952.3,1171.3 960.0,1171.2 C967.7,1171.1 970.7,1171.0 975.0,1170.6 C979.3,1170.2 982.5,1169.8 986.0,1169.0 C989.5,1168.2 993.2,1166.8 996.0,1165.5 C998.8,1164.2 1000.7,1162.8 1003.0,1161.0 C1005.3,1159.2 1007.5,1157.2 1009.7,1154.5 C1011.9,1151.8 1013.9,1148.6 1016.0,1144.5 C1018.1,1140.4 1021.5,1132.4 1022.6,1130.0 L1024.3,1143.4 C1025.8,1139.8 1030.0,1128.9 1033.0,1122.0 C1036.0,1115.1 1039.6,1108.0 1042.3,1102.0 C1045.0,1096.0 1046.7,1091.3 1049.0,1086.0 C1051.3,1080.7 1053.6,1075.4 1055.9,1070.0 C1058.2,1064.6 1060.4,1058.9 1062.7,1053.5 C1065.0,1048.1 1067.2,1042.8 1069.5,1037.4 C1071.8,1032.0 1074.0,1026.4 1076.3,1021.0 C1078.5,1015.6 1081.0,1009.8 1083.0,1005.0 C1085.0,1000.2 1086.7,996.1 1088.5,992.0 C1090.3,987.9 1092.3,983.8 1093.9,980.5 C1095.5,977.2 1096.7,974.8 1098.0,972.5 C1099.3,970.2 1100.4,968.4 1102.0,966.5 C1103.6,964.6 1105.8,962.0 1107.5,961.3 C1109.2,960.6 1110.6,961.6 1112.0,962.5 C1113.4,963.4 1114.6,964.8 1115.7,966.5 C1116.8,968.2 1117.6,970.2 1118.5,973.0 C1119.4,975.8 1120.3,979.3 1121.1,983.0 C1121.9,986.7 1122.8,990.5 1123.5,995.0 C1124.2,999.5 1124.7,1005.0 1125.2,1010.0 C1125.7,1015.0 1126.1,1019.5 1126.5,1025.0 C1126.9,1030.5 1127.3,1039.8 1127.5,1042.8 L1127.5,925.0 L1127.5,925.0 C1127.8,927.0 1128.8,933.8 1129.5,937.0 C1130.2,940.2 1131.0,942.6 1132.0,944.5 C1133.0,946.4 1135.1,947.9 1135.8,948.6 L1135.8,948.6 C1136.4,947.9 1138.5,946.4 1139.5,944.5 C1140.5,942.6 1141.2,940.2 1142.0,937.0 C1142.8,933.8 1143.7,927.0 1144.0,925.0 L1144.0,925.0 L1144.0,1042.8 C1144.2,1039.8 1144.6,1030.5 1145.0,1025.0 C1145.4,1019.5 1145.8,1015.0 1146.3,1010.0 C1146.8,1005.0 1147.3,999.5 1148.0,995.0 C1148.7,990.5 1149.6,986.7 1150.4,983.0 C1151.2,979.3 1152.1,975.8 1153.0,973.0 C1153.9,970.2 1154.7,968.2 1155.8,966.5 C1156.9,964.8 1158.1,963.4 1159.5,962.5 C1160.9,961.6 1162.3,960.6 1164.0,961.3 C1165.7,962.0 1167.9,964.6 1169.5,966.5 C1171.1,968.4 1172.2,970.2 1173.5,972.5 C1174.8,974.8 1176.0,977.2 1177.6,980.5 C1179.2,983.8 1181.2,987.9 1183.0,992.0 C1184.8,996.1 1186.5,1000.2 1188.5,1005.0 C1190.5,1009.8 1193.0,1015.6 1195.2,1021.0 C1197.5,1026.4 1199.7,1032.0 1202.0,1037.4 C1204.3,1042.8 1206.5,1048.1 1208.8,1053.5 C1211.1,1058.9 1213.3,1064.6 1215.6,1070.0 C1217.9,1075.4 1220.2,1080.7 1222.5,1086.0 C1224.8,1091.3 1226.5,1096.0 1229.2,1102.0 C1231.9,1108.0 1235.5,1115.1 1238.5,1122.0 C1241.5,1128.9 1245.8,1139.8 1247.2,1143.4 L1248.9,1130.0 C1250.0,1132.4 1253.3,1140.4 1255.5,1144.5 C1257.7,1148.6 1259.6,1151.8 1261.8,1154.5 C1264.0,1157.2 1266.2,1159.2 1268.5,1161.0 C1270.8,1162.8 1272.7,1164.2 1275.5,1165.5 C1278.3,1166.8 1282.0,1168.2 1285.5,1169.0 C1289.0,1169.8 1292.2,1170.2 1296.5,1170.6 C1300.8,1171.0 1303.8,1171.1 1311.5,1171.2 C1319.2,1171.3 1337.3,1171.2 1342.5,1171.2" stroke="#4a4a4a" stroke-width="2.8" fill="none" stroke-linejoin="round" stroke-linecap="round"/>
<path d="M929.0,1168.0 C934.3,1168.0 955.7,1168.0 961.0,1168.0 L961.0,1161.5 C962.5,1161.2 966.8,1160.7 970.0,1160.0 C973.2,1159.3 977.4,1158.5 980.4,1157.5 C983.4,1156.5 985.5,1155.4 988.0,1154.0 C990.5,1152.6 993.1,1150.8 995.4,1149.0 C997.6,1147.2 999.6,1145.7 1001.5,1143.4 C1003.4,1141.1 1005.2,1138.2 1007.0,1135.0 C1008.8,1131.8 1010.7,1128.5 1012.4,1124.3 C1014.1,1120.1 1015.3,1115.7 1017.0,1110.0 C1018.7,1104.3 1021.7,1093.3 1022.6,1090.0 L1024.3,1116.0 C1025.6,1112.2 1029.4,1100.8 1032.0,1093.0 C1034.6,1085.2 1037.3,1077.0 1040.0,1069.0 C1042.7,1061.0 1045.3,1053.0 1048.0,1045.0 C1050.7,1037.0 1053.4,1027.8 1055.9,1021.0 C1058.4,1014.2 1060.5,1009.9 1063.0,1004.5 C1065.5,999.1 1068.4,993.8 1070.9,988.5 C1073.4,983.2 1075.5,978.4 1078.0,973.0 C1080.5,967.6 1083.3,961.5 1086.0,956.0 C1088.7,950.5 1091.8,943.9 1093.9,940.0 C1096.0,936.1 1097.0,934.4 1098.5,932.5 C1100.0,930.6 1101.5,929.4 1103.0,928.5 C1104.5,927.6 1106.0,927.3 1107.5,927.3 C1109.0,927.3 1110.4,927.5 1112.0,928.5 C1113.6,929.5 1115.5,931.1 1117.0,933.0 C1118.5,934.9 1119.9,937.0 1121.1,940.0 C1122.3,943.0 1123.2,946.3 1124.0,951.0 C1124.8,955.7 1125.5,961.8 1126.0,968.0 C1126.5,974.2 1126.8,981.3 1127.0,988.0 C1127.2,994.7 1127.4,1005.0 1127.5,1008.4 L1127.5,847.2 L1127.5,847.2 C1127.8,848.2 1128.8,851.5 1129.5,853.0 C1130.2,854.5 1131.0,855.3 1132.0,856.0 C1133.0,856.7 1135.1,856.9 1135.8,857.1 L1135.8,857.1 C1136.4,856.9 1138.5,856.7 1139.5,856.0 C1140.5,855.3 1141.2,854.5 1142.0,853.0 C1142.8,851.5 1143.7,848.2 1144.0,847.2 L1144.0,847.2 L1144.0,1008.4 C1144.1,1005.0 1144.2,994.7 1144.5,988.0 C1144.8,981.3 1145.0,974.2 1145.5,968.0 C1146.0,961.8 1146.7,955.7 1147.5,951.0 C1148.3,946.3 1149.2,943.0 1150.4,940.0 C1151.6,937.0 1153.0,934.9 1154.5,933.0 C1156.0,931.1 1157.9,929.5 1159.5,928.5 C1161.1,927.5 1162.5,927.3 1164.0,927.3 C1165.5,927.3 1167.0,927.6 1168.5,928.5 C1170.0,929.4 1171.5,930.6 1173.0,932.5 C1174.5,934.4 1175.5,936.1 1177.6,940.0 C1179.7,943.9 1182.8,950.5 1185.5,956.0 C1188.2,961.5 1191.0,967.6 1193.5,973.0 C1196.0,978.4 1198.1,983.2 1200.6,988.5 C1203.1,993.8 1206.0,999.1 1208.5,1004.5 C1211.0,1009.9 1213.1,1014.2 1215.6,1021.0 C1218.1,1027.8 1220.8,1037.0 1223.5,1045.0 C1226.2,1053.0 1228.8,1061.0 1231.5,1069.0 C1234.2,1077.0 1236.9,1085.2 1239.5,1093.0 C1242.1,1100.8 1245.9,1112.2 1247.2,1116.0 L1248.9,1090.0 C1249.8,1093.3 1252.8,1104.3 1254.5,1110.0 C1256.2,1115.7 1257.4,1120.1 1259.1,1124.3 C1260.8,1128.5 1262.7,1131.8 1264.5,1135.0 C1266.3,1138.2 1268.1,1141.1 1270.0,1143.4 C1271.9,1145.7 1273.8,1147.2 1276.1,1149.0 C1278.3,1150.8 1281.0,1152.6 1283.5,1154.0 C1286.0,1155.4 1288.1,1156.5 1291.1,1157.5 C1294.1,1158.5 1298.3,1159.3 1301.5,1160.0 C1304.7,1160.7 1309.0,1161.2 1310.5,1161.5 L1310.5,1168.0 C1315.8,1168.0 1337.2,1168.0 1342.5,1168.0" stroke="#e03040" stroke-width="2.8" fill="none" stroke-linejoin="round" stroke-linecap="round"/>
<path d="M929.0,1161.0 C931.7,1160.3 939.7,1158.4 945.0,1157.0 C950.3,1155.6 958.1,1153.2 960.7,1152.5 L961.5,1148.0 C962.9,1147.3 966.9,1145.7 970.0,1144.0 C973.1,1142.3 977.4,1139.9 980.4,1138.0 C983.4,1136.1 985.5,1134.5 988.0,1132.5 C990.5,1130.5 993.1,1128.2 995.4,1126.0 C997.6,1123.8 999.6,1121.4 1001.5,1119.0 C1003.4,1116.6 1005.2,1114.2 1007.0,1111.5 C1008.8,1108.8 1010.6,1106.7 1012.4,1102.6 C1014.2,1098.5 1016.3,1092.7 1018.0,1087.0 C1019.7,1081.3 1021.9,1071.7 1022.7,1068.6 L1024.3,1082.0 C1025.6,1079.2 1029.3,1071.2 1032.0,1065.5 C1034.7,1059.8 1038.0,1053.4 1040.7,1048.0 C1043.4,1042.6 1045.5,1038.2 1048.0,1033.0 C1050.5,1027.8 1053.3,1022.2 1055.8,1017.0 C1058.3,1011.8 1060.5,1007.2 1063.0,1002.0 C1065.5,996.8 1068.4,991.1 1070.9,986.0 C1073.4,980.9 1075.5,976.6 1078.0,971.5 C1080.5,966.4 1083.3,960.8 1086.0,955.5 C1088.7,950.2 1091.4,944.6 1093.9,940.0 C1096.4,935.4 1098.7,931.6 1101.0,928.0 C1103.3,924.4 1105.3,921.4 1107.5,918.5 C1109.7,915.6 1112.1,912.7 1114.0,910.5 C1115.9,908.3 1117.6,907.0 1119.0,905.5 C1120.4,904.0 1121.5,903.0 1122.5,901.5 C1123.5,900.0 1124.3,898.6 1125.0,896.5 C1125.7,894.4 1126.3,892.1 1126.7,889.0 C1127.1,885.9 1127.4,879.8 1127.5,878.0 L1127.5,828.2 L1127.5,828.2 C1127.8,828.8 1128.8,831.0 1129.5,832.0 C1130.2,833.0 1131.0,833.8 1132.0,834.3 C1133.0,834.8 1135.1,834.9 1135.8,835.0 L1135.8,835.0 C1136.4,834.9 1138.5,834.8 1139.5,834.3 C1140.5,833.8 1141.2,833.0 1142.0,832.0 C1142.8,831.0 1143.7,828.8 1144.0,828.2 L1144.0,828.2 L1144.0,878.0 C1144.1,879.8 1144.4,885.9 1144.8,889.0 C1145.2,892.1 1145.8,894.4 1146.5,896.5 C1147.2,898.6 1148.0,900.0 1149.0,901.5 C1150.0,903.0 1151.1,904.0 1152.5,905.5 C1153.9,907.0 1155.6,908.3 1157.5,910.5 C1159.4,912.7 1161.8,915.6 1164.0,918.5 C1166.2,921.4 1168.2,924.4 1170.5,928.0 C1172.8,931.6 1175.1,935.4 1177.6,940.0 C1180.1,944.6 1182.8,950.2 1185.5,955.5 C1188.2,960.8 1191.0,966.4 1193.5,971.5 C1196.0,976.6 1198.1,980.9 1200.6,986.0 C1203.1,991.1 1206.0,996.8 1208.5,1002.0 C1211.0,1007.2 1213.2,1011.8 1215.7,1017.0 C1218.2,1022.2 1221.0,1027.8 1223.5,1033.0 C1226.0,1038.2 1228.1,1042.6 1230.8,1048.0 C1233.5,1053.4 1236.8,1059.8 1239.5,1065.5 C1242.2,1071.2 1245.9,1079.2 1247.2,1082.0 L1248.8,1068.6 C1249.6,1071.7 1251.8,1081.3 1253.5,1087.0 C1255.2,1092.7 1257.3,1098.5 1259.1,1102.6 C1260.9,1106.7 1262.7,1108.8 1264.5,1111.5 C1266.3,1114.2 1268.1,1116.6 1270.0,1119.0 C1271.9,1121.4 1273.8,1123.8 1276.1,1126.0 C1278.3,1128.2 1281.0,1130.5 1283.5,1132.5 C1286.0,1134.5 1288.1,1136.1 1291.1,1138.0 C1294.1,1139.9 1298.3,1142.3 1301.5,1144.0 C1304.7,1145.7 1308.6,1147.3 1310.0,1148.0 L1310.8,1152.5 C1313.4,1153.2 1321.2,1155.6 1326.5,1157.0 C1331.8,1158.4 1339.8,1160.3 1342.5,1161.0" stroke="#2f6fd0" stroke-width="2.8" fill="none" stroke-linejoin="round" stroke-linecap="round"/>
<line x1="1096.6" y1="706.4" x2="1180.6" y2="706.4" stroke="#4a4a4a" stroke-width="2.6"/>
<text transform="translate(1189.5,717.4) scale(1.234,1)" font-size="31" text-anchor="start" >λ=2 μm</text>
<line x1="1096.6" y1="751.4" x2="1180.6" y2="751.4" stroke="#e03040" stroke-width="2.6"/>
<text transform="translate(1189.5,762.4) scale(1.234,1)" font-size="31" text-anchor="start" >λ=3 μm</text>
<line x1="1096.6" y1="796.2" x2="1180.6" y2="796.2" stroke="#2f6fd0" stroke-width="2.6"/>
<text transform="translate(1189.5,807.2) scale(1.234,1)" font-size="31" text-anchor="start" >λ=4 μm</text>
<defs><filter id="bl" x="-50%" y="-50%" width="200%" height="200%"><feGaussianBlur stdDeviation="1.3"/></filter><filter id="bl2" x="-50%" y="-50%" width="200%" height="200%"><feGaussianBlur stdDeviation="0.7"/></filter><radialGradient id="g0" cx="0.5" cy="0.5" r="0.5"><stop offset="0.000" stop-color="#890000"/><stop offset="0.032" stop-color="#e50000"/><stop offset="0.080" stop-color="#ff0500"/><stop offset="0.152" stop-color="#ff1900"/><stop offset="0.184" stop-color="#ff4c00"/><stop offset="0.208" stop-color="#ff9300"/><stop offset="0.232" stop-color="#ffef00"/><stop offset="0.256" stop-color="#bcff42"/><stop offset="0.280" stop-color="#75ff89"/><stop offset="0.312" stop-color="#2dffd1"/><stop offset="0.352" stop-color="#00e5ff"/><stop offset="0.384" stop-color="#00a8ff"/><stop offset="0.416" stop-color="#0060ff"/><stop offset="0.456" stop-color="#0028ff"/><stop offset="0.504" stop-color="#0005ff"/><stop offset="0.560" stop-color="#0000ea"/><stop offset="0.624" stop-color="#0000d6"/><stop offset="0.704" stop-color="#0000c1"/><stop offset="0.800" stop-color="#0000ad"/><stop offset="0.896" stop-color="#000099"/><stop offset="1.000" stop-color="#00008c"/></radialGradient><clipPath id="c0"><rect x="1368" y="669.1" width="227.7" height="185.7"/></clipPath><radialGradient id="g1" cx="0.5" cy="0.5" r="0.5"><stop offset="0.000" stop-color="#890000"/><stop offset="0.038" stop-color="#f90000"/><stop offset="0.076" stop-color="#ff2d00"/><stop offset="0.121" stop-color="#ff5600"/><stop offset="0.167" stop-color="#ff7f00"/><stop offset="0.205" stop-color="#ffb200"/><stop offset="0.235" stop-color="#fff900"/><stop offset="0.265" stop-color="#bcff42"/><stop offset="0.295" stop-color="#6bff93"/><stop offset="0.326" stop-color="#2dffd1"/><stop offset="0.356" stop-color="#00efff"/><stop offset="0.386" stop-color="#00b2ff"/><stop offset="0.424" stop-color="#006bff"/><stop offset="0.462" stop-color="#002dff"/><stop offset="0.508" stop-color="#0005ff"/><stop offset="0.561" stop-color="#0000ea"/><stop offset="0.621" stop-color="#0000d6"/><stop offset="0.697" stop-color="#0000c1"/><stop offset="0.788" stop-color="#0000ad"/><stop offset="0.886" stop-color="#000099"/><stop offset="0.985" stop-color="#00008c"/></radialGradient><clipPath id="c1"><rect x="1368" y="858.3" width="227.7" height="185.5"/></clipPath><radialGradient id="g2" cx="0.5" cy="0.5" r="0.5"><stop offset="0.000" stop-color="#890000"/><stop offset="0.035" stop-color="#f90000"/><stop offset="0.070" stop-color="#ff4c00"/><stop offset="0.113" stop-color="#ff8900"/><stop offset="0.155" stop-color="#ffbc00"/><stop offset="0.197" stop-color="#ffef00"/><stop offset="0.239" stop-color="#e5ff19"/><stop offset="0.282" stop-color="#93ff6b"/><stop offset="0.324" stop-color="#56ffa8"/><stop offset="0.366" stop-color="#23ffdb"/><stop offset="0.408" stop-color="#00efff"/><stop offset="0.444" stop-color="#00c6ff"/><stop offset="0.479" stop-color="#0093ff"/><stop offset="0.521" stop-color="#0056ff"/><stop offset="0.563" stop-color="#0023ff"/><stop offset="0.606" stop-color="#0000ff"/><stop offset="0.655" stop-color="#0000e5"/><stop offset="0.711" stop-color="#0000d1"/><stop offset="0.775" stop-color="#0000bc"/><stop offset="0.845" stop-color="#0000a8"/><stop offset="0.923" stop-color="#000093"/><stop offset="1.000" stop-color="#00008c"/></radialGradient><clipPath id="c2"><rect x="1368" y="1047.6" width="227.7" height="181.6"/></clipPath><radialGradient id="lobe" cx="0.5" cy="0.5" r="0.5"><stop offset="0" stop-color="#40ffb0" stop-opacity="0.75"/><stop offset="0.6" stop-color="#20e0ff" stop-opacity="0.35"/><stop offset="1" stop-color="#00a0ff" stop-opacity="0"/></radialGradient><radialGradient id="core0" cx="0.5" cy="0.5" r="0.5"><stop offset="0.000" stop-color="#890000"/><stop offset="0.111" stop-color="#e50000"/><stop offset="0.278" stop-color="#ff0500"/><stop offset="0.528" stop-color="#ff1900"/><stop offset="0.639" stop-color="#ff4c00"/><stop offset="0.722" stop-color="#ff9300"/><stop offset="0.806" stop-color="#ffef00"/><stop offset="0.889" stop-color="#bcff42"/><stop offset="1" stop-color="#7fff7f" stop-opacity="0"/></radialGradient></defs>
<rect x="1368" y="669.1" width="227.7" height="560.1" fill="#03038c"/>
<g clip-path="url(#c0)"><rect x="1368" y="669.1" width="227.7" height="185.7" fill="#03038c"/><ellipse cx="1481.1" cy="762" rx="125" ry="112.5" fill="url(#g0)"/><g filter="url(#bl2)"><ellipse cx="1514.7" cy="744.2" rx="15" ry="12" transform="rotate(-28,1514.7,744.2)" fill="url(#lobe)"/><ellipse cx="1481.1" cy="724.0" rx="15" ry="12" transform="rotate(-90,1481.1,724.0)" fill="url(#lobe)"/><ellipse cx="1447.5" cy="744.2" rx="15" ry="12" transform="rotate(-152,1447.5,744.2)" fill="url(#lobe)"/><ellipse cx="1447.5" cy="779.8" rx="15" ry="12" transform="rotate(-208,1447.5,779.8)" fill="url(#lobe)"/><ellipse cx="1481.1" cy="800.0" rx="15" ry="12" transform="rotate(-270,1481.1,800.0)" fill="url(#lobe)"/><ellipse cx="1514.7" cy="779.8" rx="15" ry="12" transform="rotate(-332,1514.7,779.8)" fill="url(#lobe)"/><circle cx="1457.3" cy="726.9" r="9" fill="#0a3cff" fill-opacity="0.22"/><circle cx="1504.8" cy="726.9" r="9" fill="#0a3cff" fill-opacity="0.22"/><circle cx="1433.6" cy="762.0" r="9" fill="#0a3cff" fill-opacity="0.22"/><circle cx="1528.6" cy="762.0" r="9" fill="#0a3cff" fill-opacity="0.22"/><circle cx="1457.3" cy="797.1" r="9" fill="#0a3cff" fill-opacity="0.22"/><circle cx="1504.8" cy="797.1" r="9" fill="#0a3cff" fill-opacity="0.22"/><ellipse cx="1481.1" cy="762" rx="36" ry="32.4" fill="url(#core0)"/></g><g filter="url(#bl)"><ellipse cx="1482.1" cy="756.5" rx="4.5" ry="2.8" fill="#ffc020" fill-opacity="0.5"/><ellipse cx="1482.1" cy="767.5" rx="4.5" ry="2.8" fill="#ffc020" fill-opacity="0.5"/><ellipse cx="1482.1" cy="762" rx="6.5" ry="3.5" fill="#7a0000" transform="rotate(0,1482.1,762)"/></g></g>
<text transform="translate(1381,697.5) scale(1.145,1)" font-size="35.5" style="fill:#eeeeff;stroke:#eeeeff;stroke-width:0.25px">2 μm</text>
<g clip-path="url(#c1)"><rect x="1368" y="858.3" width="227.7" height="185.5" fill="#03038c"/><ellipse cx="1481.1" cy="949.6" rx="132" ry="118.8" fill="url(#g1)"/><g filter="url(#bl2)"><circle cx="1456.1" cy="912.6" r="9.5" fill="#40e0c0" fill-opacity="0.35" stroke="#2a9ad0" stroke-opacity="0.6" stroke-width="1.2"/><circle cx="1506.1" cy="912.6" r="9.5" fill="#40e0c0" fill-opacity="0.35" stroke="#2a9ad0" stroke-opacity="0.6" stroke-width="1.2"/><circle cx="1431.1" cy="949.6" r="9.5" fill="#40e0c0" fill-opacity="0.35" stroke="#2a9ad0" stroke-opacity="0.6" stroke-width="1.2"/><circle cx="1531.1" cy="949.6" r="9.5" fill="#40e0c0" fill-opacity="0.35" stroke="#2a9ad0" stroke-opacity="0.6" stroke-width="1.2"/><circle cx="1456.1" cy="986.6" r="9.5" fill="#40e0c0" fill-opacity="0.35" stroke="#2a9ad0" stroke-opacity="0.6" stroke-width="1.2"/><circle cx="1506.1" cy="986.6" r="9.5" fill="#40e0c0" fill-opacity="0.35" stroke="#2a9ad0" stroke-opacity="0.6" stroke-width="1.2"/></g><g filter="url(#bl)"><ellipse cx="1482.1" cy="944.1" rx="4.5" ry="2.8" fill="#ffc020" fill-opacity="0.5"/><ellipse cx="1482.1" cy="955.1" rx="4.5" ry="2.8" fill="#ffc020" fill-opacity="0.5"/><ellipse cx="1482.1" cy="949.6" rx="6.5" ry="3.5" fill="#7a0000" transform="rotate(0,1482.1,949.6)"/></g></g>
<text transform="translate(1381,890.2) scale(1.145,1)" font-size="35.5" style="fill:#eeeeff;stroke:#eeeeff;stroke-width:0.25px">3 μm</text>
<g clip-path="url(#c2)"><rect x="1368" y="1047.6" width="227.7" height="181.6" fill="#03038c"/><ellipse cx="1481.1" cy="1137" rx="142" ry="123.5" fill="url(#g2)"/><g filter="url(#bl2)"><circle cx="1456.1" cy="1100.0" r="9.5" fill="#40e0c0" fill-opacity="0.35" stroke="#2a9ad0" stroke-opacity="0.6" stroke-width="1.2"/><circle cx="1506.1" cy="1100.0" r="9.5" fill="#40e0c0" fill-opacity="0.35" stroke="#2a9ad0" stroke-opacity="0.6" stroke-width="1.2"/><circle cx="1431.1" cy="1137.0" r="9.5" fill="#40e0c0" fill-opacity="0.35" stroke="#2a9ad0" stroke-opacity="0.6" stroke-width="1.2"/><circle cx="1531.1" cy="1137.0" r="9.5" fill="#40e0c0" fill-opacity="0.35" stroke="#2a9ad0" stroke-opacity="0.6" stroke-width="1.2"/><circle cx="1456.1" cy="1174.0" r="9.5" fill="#40e0c0" fill-opacity="0.35" stroke="#2a9ad0" stroke-opacity="0.6" stroke-width="1.2"/><circle cx="1506.1" cy="1174.0" r="9.5" fill="#40e0c0" fill-opacity="0.35" stroke="#2a9ad0" stroke-opacity="0.6" stroke-width="1.2"/></g><g filter="url(#bl)"><ellipse cx="1482.1" cy="1137" rx="6.5" ry="3.5" fill="#7a0000" transform="rotate(40,1482.1,1137)"/></g></g>
<text transform="translate(1381,1078.9) scale(1.145,1)" font-size="35.5" style="fill:#eeeeff;stroke:#eeeeff;stroke-width:0.25px">4 μm</text>
<rect x="1368" y="855.2" width="227.7" height="2.8" fill="#7d7de6"/>
<rect x="1368" y="1044.3" width="227.7" height="2.8" fill="#7d7de6"/>
</svg></body></html>
